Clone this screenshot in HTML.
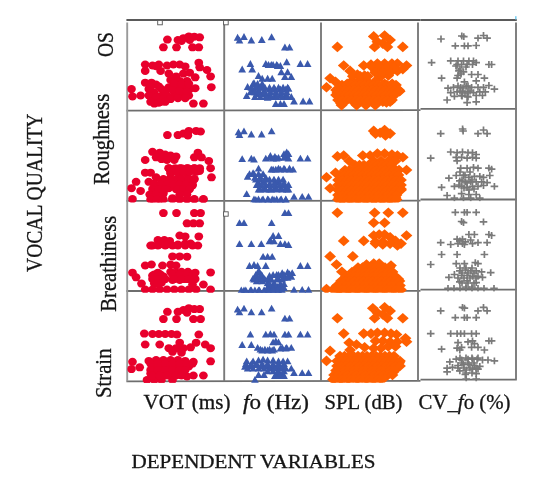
<!DOCTYPE html>
<html><head><meta charset="utf-8"><title>Vocal quality scatterplot matrix</title>
<style>html,body{margin:0;padding:0;background:#fff;}svg{display:block;}</style></head>
<body><svg width="550" height="491" viewBox="0 0 550 491">
<rect width="550" height="491" fill="#fff"/>
<defs>
<clipPath id="p00"><polygon points="127.2,19.50 224.2,19.50 224.2,112.19 127.2,112.40"/></clipPath>
<clipPath id="p01"><polygon points="224.2,19.50 321,19.50 321,111.97 224.2,112.19"/></clipPath>
<clipPath id="p02"><polygon points="321,19.50 418,19.50 418,111.76 321,111.97"/></clipPath>
<clipPath id="p03"><polygon points="418,19.50 516,19.50 516,110.55 418,110.55"/></clipPath>
<clipPath id="p10"><polygon points="127.2,110.20 224.2,109.99 224.2,202.53 127.2,202.60"/></clipPath>
<clipPath id="p11"><polygon points="224.2,109.99 321,109.77 321,202.47 224.2,202.53"/></clipPath>
<clipPath id="p12"><polygon points="321,109.77 418,109.56 418,202.40 321,202.47"/></clipPath>
<clipPath id="p13"><polygon points="418,108.35 516,108.35 516,201.20 418,201.20"/></clipPath>
<clipPath id="p20"><polygon points="127.2,200.40 224.2,200.33 224.2,292.67 127.2,292.70"/></clipPath>
<clipPath id="p21"><polygon points="224.2,200.33 321,200.27 321,292.63 224.2,292.67"/></clipPath>
<clipPath id="p22"><polygon points="321,200.27 418,200.20 418,292.60 321,292.63"/></clipPath>
<clipPath id="p23"><polygon points="418,199.00 516,199.00 516,291.40 418,291.40"/></clipPath>
<clipPath id="p30"><polygon points="127.2,290.50 224.2,290.47 224.2,382.87 127.2,383.00"/></clipPath>
<clipPath id="p31"><polygon points="224.2,290.47 321,290.43 321,382.74 224.2,382.87"/></clipPath>
<clipPath id="p32"><polygon points="321,290.43 418,290.40 418,382.60 321,382.74"/></clipPath>
<clipPath id="p33"><polygon points="418,289.20 516,289.20 516,381.30 418,381.30"/></clipPath>
</defs>
<line x1="126.4" y1="20" x2="420.5" y2="20" stroke="#5a5a5a" stroke-width="1.8"/>
<line x1="420.5" y1="20" x2="516.8" y2="20" stroke="#5a5a5a" stroke-width="1.8"/>
<line x1="126.4" y1="110.7" x2="420.5" y2="110.05" stroke="#6e6e6e" stroke-width="1.8"/>
<line x1="420.5" y1="108.85" x2="516.8" y2="108.85" stroke="#6e6e6e" stroke-width="1.8"/>
<line x1="126.4" y1="200.9" x2="420.5" y2="200.7" stroke="#6e6e6e" stroke-width="1.8"/>
<line x1="420.5" y1="199.5" x2="516.8" y2="199.5" stroke="#6e6e6e" stroke-width="1.8"/>
<line x1="126.4" y1="291" x2="420.5" y2="290.9" stroke="#6e6e6e" stroke-width="1.8"/>
<line x1="420.5" y1="289.7" x2="516.8" y2="289.7" stroke="#6e6e6e" stroke-width="1.8"/>
<line x1="126.4" y1="381.3" x2="420.5" y2="380.9" stroke="#6e6e6e" stroke-width="1.8"/>
<line x1="420.5" y1="379.6" x2="516.8" y2="379.6" stroke="#6e6e6e" stroke-width="1.8"/>
<line x1="127.2" y1="22.5" x2="127.2" y2="381.3" stroke="#9a9a9a" stroke-width="1.9"/>
<line x1="224.2" y1="22.5" x2="224.2" y2="381.1677122400273" stroke="#7a7a7a" stroke-width="1.9"/>
<line x1="321" y1="22.5" x2="321" y2="381.03569723832254" stroke="#7a7a7a" stroke-width="1.9"/>
<line x1="418" y1="22.5" x2="418" y2="380.9034094783498" stroke="#7a7a7a" stroke-width="1.9"/>
<line x1="516" y1="22.5" x2="516" y2="379.6" stroke="#7a7a7a" stroke-width="1.9"/>
<g clip-path="url(#p00)" fill="#e8002c">
<ellipse cx="167.4" cy="39.6" rx="4.35" ry="4.0"/>
<ellipse cx="163.4" cy="47.3" rx="4.35" ry="4.0"/>
<ellipse cx="176.5" cy="47.3" rx="4.35" ry="4.0"/>
<ellipse cx="177.9" cy="40.0" rx="4.35" ry="4.0"/>
<ellipse cx="183.4" cy="38.2" rx="4.35" ry="4.0"/>
<ellipse cx="188.8" cy="36.4" rx="4.35" ry="4.0"/>
<ellipse cx="194.3" cy="36.7" rx="4.35" ry="4.0"/>
<ellipse cx="199.7" cy="37.3" rx="4.35" ry="4.0"/>
<ellipse cx="192.5" cy="47.3" rx="4.35" ry="4.0"/>
<ellipse cx="198.8" cy="47.3" rx="4.35" ry="4.0"/>
<ellipse cx="181.5" cy="40.9" rx="4.35" ry="4.0"/>
<ellipse cx="189.7" cy="40.0" rx="4.35" ry="4.0"/>
<ellipse cx="145.2" cy="64.5" rx="4.35" ry="4.0"/>
<ellipse cx="145.2" cy="70.9" rx="4.35" ry="4.0"/>
<ellipse cx="152.5" cy="65.5" rx="4.35" ry="4.0"/>
<ellipse cx="158.8" cy="64.5" rx="4.35" ry="4.0"/>
<ellipse cx="160.6" cy="70.9" rx="4.35" ry="4.0"/>
<ellipse cx="167.0" cy="65.5" rx="4.35" ry="4.0"/>
<ellipse cx="173.4" cy="64.5" rx="4.35" ry="4.0"/>
<ellipse cx="179.7" cy="64.5" rx="4.35" ry="4.0"/>
<ellipse cx="185.2" cy="66.4" rx="4.35" ry="4.0"/>
<ellipse cx="198.8" cy="62.7" rx="4.35" ry="4.0"/>
<ellipse cx="199.7" cy="67.3" rx="4.35" ry="4.0"/>
<ellipse cx="207.0" cy="70.0" rx="4.35" ry="4.0"/>
<ellipse cx="210.6" cy="76.4" rx="4.35" ry="4.0"/>
<ellipse cx="211.3" cy="87.2" rx="4.35" ry="4.0"/>
<ellipse cx="168.8" cy="73.6" rx="4.35" ry="4.0"/>
<ellipse cx="176.1" cy="76.4" rx="4.35" ry="4.0"/>
<ellipse cx="183.4" cy="73.6" rx="4.35" ry="4.0"/>
<ellipse cx="189.7" cy="72.7" rx="4.35" ry="4.0"/>
<ellipse cx="195.2" cy="77.3" rx="4.35" ry="4.0"/>
<ellipse cx="170.6" cy="80.0" rx="4.35" ry="4.0"/>
<ellipse cx="179.7" cy="80.9" rx="4.35" ry="4.0"/>
<ellipse cx="187.0" cy="80.9" rx="4.35" ry="4.0"/>
<ellipse cx="145.2" cy="82.7" rx="4.35" ry="4.0"/>
<ellipse cx="151.5" cy="82.7" rx="4.35" ry="4.0"/>
<ellipse cx="131.5" cy="89.1" rx="4.35" ry="4.0"/>
<ellipse cx="132.5" cy="96.4" rx="4.35" ry="4.0"/>
<ellipse cx="140.6" cy="95.5" rx="4.35" ry="4.0"/>
<ellipse cx="148.8" cy="89.1" rx="4.35" ry="4.0"/>
<ellipse cx="154.3" cy="92.7" rx="4.35" ry="4.0"/>
<ellipse cx="161.5" cy="89.1" rx="4.35" ry="4.0"/>
<ellipse cx="168.8" cy="87.3" rx="4.35" ry="4.0"/>
<ellipse cx="176.1" cy="87.3" rx="4.35" ry="4.0"/>
<ellipse cx="183.4" cy="87.3" rx="4.35" ry="4.0"/>
<ellipse cx="189.7" cy="89.1" rx="4.35" ry="4.0"/>
<ellipse cx="195.2" cy="88.2" rx="4.35" ry="4.0"/>
<ellipse cx="152.5" cy="99.1" rx="4.35" ry="4.0"/>
<ellipse cx="159.7" cy="96.4" rx="4.35" ry="4.0"/>
<ellipse cx="167.0" cy="95.5" rx="4.35" ry="4.0"/>
<ellipse cx="174.3" cy="94.5" rx="4.35" ry="4.0"/>
<ellipse cx="181.5" cy="93.6" rx="4.35" ry="4.0"/>
<ellipse cx="188.8" cy="95.5" rx="4.35" ry="4.0"/>
<ellipse cx="154.3" cy="103.6" rx="4.35" ry="4.0"/>
<ellipse cx="160.6" cy="101.8" rx="4.35" ry="4.0"/>
<ellipse cx="193.4" cy="103.6" rx="4.35" ry="4.0"/>
<ellipse cx="203.4" cy="103.6" rx="4.35" ry="4.0"/>
<ellipse cx="156.1" cy="66.2" rx="4.35" ry="4.0"/>
<ellipse cx="156.1" cy="84.5" rx="4.35" ry="4.0"/>
<ellipse cx="150.6" cy="87.3" rx="4.35" ry="4.0"/>
<ellipse cx="158.8" cy="86.4" rx="4.35" ry="4.0"/>
<ellipse cx="174.3" cy="83.6" rx="4.35" ry="4.0"/>
<ellipse cx="181.5" cy="83.6" rx="4.35" ry="4.0"/>
<ellipse cx="188.8" cy="83.6" rx="4.35" ry="4.0"/>
<ellipse cx="165.2" cy="91.8" rx="4.35" ry="4.0"/>
<ellipse cx="172.5" cy="90.0" rx="4.35" ry="4.0"/>
<ellipse cx="179.7" cy="90.9" rx="4.35" ry="4.0"/>
<ellipse cx="187.0" cy="91.8" rx="4.35" ry="4.0"/>
<ellipse cx="148.8" cy="95.5" rx="4.35" ry="4.0"/>
<ellipse cx="156.1" cy="97.3" rx="4.35" ry="4.0"/>
<ellipse cx="163.4" cy="99.1" rx="4.35" ry="4.0"/>
<ellipse cx="170.6" cy="99.1" rx="4.35" ry="4.0"/>
<ellipse cx="177.9" cy="98.2" rx="4.35" ry="4.0"/>
<ellipse cx="185.2" cy="98.2" rx="4.35" ry="4.0"/>
<ellipse cx="150.6" cy="101.8" rx="4.35" ry="4.0"/>
<ellipse cx="158.8" cy="102.7" rx="4.35" ry="4.0"/>
<ellipse cx="165.2" cy="101.8" rx="4.35" ry="4.0"/>
</g>
<g clip-path="url(#p10)" fill="#e8002c">
<ellipse cx="167.4" cy="135.1" rx="4.35" ry="4.0"/>
<ellipse cx="177.9" cy="135.1" rx="4.35" ry="4.0"/>
<ellipse cx="183.4" cy="133.6" rx="4.35" ry="4.0"/>
<ellipse cx="188.8" cy="130.9" rx="4.35" ry="4.0"/>
<ellipse cx="187.9" cy="135.5" rx="4.35" ry="4.0"/>
<ellipse cx="196.1" cy="130.9" rx="4.35" ry="4.0"/>
<ellipse cx="200.6" cy="131.5" rx="4.35" ry="4.0"/>
<ellipse cx="152.5" cy="151.8" rx="4.35" ry="4.0"/>
<ellipse cx="159.7" cy="152.7" rx="4.35" ry="4.0"/>
<ellipse cx="165.2" cy="154.5" rx="4.35" ry="4.0"/>
<ellipse cx="170.6" cy="155.5" rx="4.35" ry="4.0"/>
<ellipse cx="176.1" cy="156.4" rx="4.35" ry="4.0"/>
<ellipse cx="156.1" cy="157.3" rx="4.35" ry="4.0"/>
<ellipse cx="161.5" cy="159.1" rx="4.35" ry="4.0"/>
<ellipse cx="167.0" cy="160.0" rx="4.35" ry="4.0"/>
<ellipse cx="174.3" cy="160.0" rx="4.35" ry="4.0"/>
<ellipse cx="145.2" cy="160.0" rx="4.35" ry="4.0"/>
<ellipse cx="197.9" cy="152.7" rx="4.35" ry="4.0"/>
<ellipse cx="194.3" cy="157.3" rx="4.35" ry="4.0"/>
<ellipse cx="201.5" cy="157.3" rx="4.35" ry="4.0"/>
<ellipse cx="208.8" cy="160.9" rx="4.35" ry="4.0"/>
<ellipse cx="210.6" cy="168.2" rx="4.35" ry="4.0"/>
<ellipse cx="211.5" cy="177.3" rx="4.35" ry="4.0"/>
<ellipse cx="168.8" cy="168.2" rx="4.35" ry="4.0"/>
<ellipse cx="179.7" cy="168.2" rx="4.35" ry="4.0"/>
<ellipse cx="187.0" cy="168.2" rx="4.35" ry="4.0"/>
<ellipse cx="194.3" cy="168.2" rx="4.35" ry="4.0"/>
<ellipse cx="199.7" cy="170.9" rx="4.35" ry="4.0"/>
<ellipse cx="170.6" cy="173.6" rx="4.35" ry="4.0"/>
<ellipse cx="179.7" cy="174.5" rx="4.35" ry="4.0"/>
<ellipse cx="187.0" cy="173.6" rx="4.35" ry="4.0"/>
<ellipse cx="145.2" cy="172.7" rx="4.35" ry="4.0"/>
<ellipse cx="150.6" cy="172.7" rx="4.35" ry="4.0"/>
<ellipse cx="156.1" cy="177.3" rx="4.35" ry="4.0"/>
<ellipse cx="148.8" cy="181.8" rx="4.35" ry="4.0"/>
<ellipse cx="136.1" cy="181.8" rx="4.35" ry="4.0"/>
<ellipse cx="131.5" cy="188.2" rx="4.35" ry="4.0"/>
<ellipse cx="140.6" cy="190.9" rx="4.35" ry="4.0"/>
<ellipse cx="154.3" cy="183.6" rx="4.35" ry="4.0"/>
<ellipse cx="161.5" cy="182.7" rx="4.35" ry="4.0"/>
<ellipse cx="167.0" cy="181.8" rx="4.35" ry="4.0"/>
<ellipse cx="174.3" cy="180.9" rx="4.35" ry="4.0"/>
<ellipse cx="181.5" cy="180.0" rx="4.35" ry="4.0"/>
<ellipse cx="188.8" cy="180.9" rx="4.35" ry="4.0"/>
<ellipse cx="194.3" cy="179.1" rx="4.35" ry="4.0"/>
<ellipse cx="192.5" cy="185.5" rx="4.35" ry="4.0"/>
<ellipse cx="154.3" cy="189.1" rx="4.35" ry="4.0"/>
<ellipse cx="161.5" cy="189.1" rx="4.35" ry="4.0"/>
<ellipse cx="168.8" cy="188.2" rx="4.35" ry="4.0"/>
<ellipse cx="176.1" cy="189.1" rx="4.35" ry="4.0"/>
<ellipse cx="183.4" cy="189.1" rx="4.35" ry="4.0"/>
<ellipse cx="188.8" cy="188.2" rx="4.35" ry="4.0"/>
<ellipse cx="150.6" cy="195.5" rx="4.35" ry="4.0"/>
<ellipse cx="157.9" cy="194.5" rx="4.35" ry="4.0"/>
<ellipse cx="163.4" cy="193.6" rx="4.35" ry="4.0"/>
<ellipse cx="152.5" cy="199.1" rx="4.35" ry="4.0"/>
<ellipse cx="159.7" cy="199.1" rx="4.35" ry="4.0"/>
<ellipse cx="172.5" cy="198.2" rx="4.35" ry="4.0"/>
<ellipse cx="179.7" cy="199.1" rx="4.35" ry="4.0"/>
<ellipse cx="187.0" cy="199.1" rx="4.35" ry="4.0"/>
<ellipse cx="194.3" cy="199.1" rx="4.35" ry="4.0"/>
<ellipse cx="203.4" cy="199.1" rx="4.35" ry="4.0"/>
<ellipse cx="132.5" cy="199.1" rx="4.35" ry="4.0"/>
<ellipse cx="168.8" cy="168.2" rx="4.35" ry="4.0"/>
<ellipse cx="175.2" cy="168.2" rx="4.35" ry="4.0"/>
<ellipse cx="181.5" cy="168.2" rx="4.35" ry="4.0"/>
<ellipse cx="187.9" cy="168.2" rx="4.35" ry="4.0"/>
<ellipse cx="194.3" cy="168.2" rx="4.35" ry="4.0"/>
<ellipse cx="199.7" cy="168.2" rx="4.35" ry="4.0"/>
<ellipse cx="170.6" cy="171.8" rx="4.35" ry="4.0"/>
<ellipse cx="177.0" cy="171.8" rx="4.35" ry="4.0"/>
<ellipse cx="183.4" cy="171.8" rx="4.35" ry="4.0"/>
<ellipse cx="189.7" cy="171.8" rx="4.35" ry="4.0"/>
<ellipse cx="196.1" cy="171.8" rx="4.35" ry="4.0"/>
<ellipse cx="163.4" cy="179.1" rx="4.35" ry="4.0"/>
<ellipse cx="169.7" cy="179.1" rx="4.35" ry="4.0"/>
<ellipse cx="176.1" cy="179.1" rx="4.35" ry="4.0"/>
<ellipse cx="181.5" cy="179.1" rx="4.35" ry="4.0"/>
<ellipse cx="188.8" cy="179.1" rx="4.35" ry="4.0"/>
<ellipse cx="194.3" cy="179.1" rx="4.35" ry="4.0"/>
<ellipse cx="154.3" cy="184.5" rx="4.35" ry="4.0"/>
<ellipse cx="160.6" cy="184.5" rx="4.35" ry="4.0"/>
<ellipse cx="167.0" cy="184.5" rx="4.35" ry="4.0"/>
<ellipse cx="173.4" cy="184.5" rx="4.35" ry="4.0"/>
<ellipse cx="179.7" cy="184.5" rx="4.35" ry="4.0"/>
<ellipse cx="186.1" cy="184.5" rx="4.35" ry="4.0"/>
<ellipse cx="192.5" cy="184.5" rx="4.35" ry="4.0"/>
<ellipse cx="152.5" cy="189.1" rx="4.35" ry="4.0"/>
<ellipse cx="158.8" cy="189.1" rx="4.35" ry="4.0"/>
<ellipse cx="165.2" cy="189.1" rx="4.35" ry="4.0"/>
<ellipse cx="177.9" cy="189.1" rx="4.35" ry="4.0"/>
<ellipse cx="183.4" cy="189.1" rx="4.35" ry="4.0"/>
<ellipse cx="189.7" cy="189.1" rx="4.35" ry="4.0"/>
<ellipse cx="149.7" cy="194.5" rx="4.35" ry="4.0"/>
<ellipse cx="156.1" cy="194.5" rx="4.35" ry="4.0"/>
<ellipse cx="162.5" cy="194.5" rx="4.35" ry="4.0"/>
<ellipse cx="179.7" cy="194.5" rx="4.35" ry="4.0"/>
<ellipse cx="187.0" cy="194.5" rx="4.35" ry="4.0"/>
<ellipse cx="150.6" cy="199.5" rx="4.35" ry="4.0"/>
<ellipse cx="157.0" cy="199.5" rx="4.35" ry="4.0"/>
<ellipse cx="163.4" cy="199.5" rx="4.35" ry="4.0"/>
<ellipse cx="172.5" cy="199.5" rx="4.35" ry="4.0"/>
<ellipse cx="179.7" cy="199.5" rx="4.35" ry="4.0"/>
<ellipse cx="187.0" cy="199.5" rx="4.35" ry="4.0"/>
<ellipse cx="194.3" cy="199.5" rx="4.35" ry="4.0"/>
<ellipse cx="203.4" cy="199.5" rx="4.35" ry="4.0"/>
</g>
<g clip-path="url(#p20)" fill="#e8002c">
<ellipse cx="163.4" cy="213.1" rx="4.35" ry="4.0"/>
<ellipse cx="176.5" cy="213.1" rx="4.35" ry="4.0"/>
<ellipse cx="194.3" cy="213.1" rx="4.35" ry="4.0"/>
<ellipse cx="200.6" cy="213.1" rx="4.35" ry="4.0"/>
<ellipse cx="187.0" cy="223.3" rx="4.35" ry="4.0"/>
<ellipse cx="193.4" cy="223.3" rx="4.35" ry="4.0"/>
<ellipse cx="199.7" cy="223.3" rx="4.35" ry="4.0"/>
<ellipse cx="179.7" cy="235.5" rx="4.35" ry="4.0"/>
<ellipse cx="185.2" cy="236.4" rx="4.35" ry="4.0"/>
<ellipse cx="198.8" cy="236.4" rx="4.35" ry="4.0"/>
<ellipse cx="157.9" cy="240.0" rx="4.35" ry="4.0"/>
<ellipse cx="164.3" cy="240.0" rx="4.35" ry="4.0"/>
<ellipse cx="169.7" cy="240.9" rx="4.35" ry="4.0"/>
<ellipse cx="152.5" cy="245.5" rx="4.35" ry="4.0"/>
<ellipse cx="159.7" cy="244.5" rx="4.35" ry="4.0"/>
<ellipse cx="167.0" cy="244.5" rx="4.35" ry="4.0"/>
<ellipse cx="177.9" cy="244.5" rx="4.35" ry="4.0"/>
<ellipse cx="185.2" cy="243.6" rx="4.35" ry="4.0"/>
<ellipse cx="190.6" cy="243.6" rx="4.35" ry="4.0"/>
<ellipse cx="197.9" cy="245.5" rx="4.35" ry="4.0"/>
<ellipse cx="172.5" cy="256.4" rx="4.35" ry="4.0"/>
<ellipse cx="179.7" cy="256.4" rx="4.35" ry="4.0"/>
<ellipse cx="187.0" cy="256.7" rx="4.35" ry="4.0"/>
<ellipse cx="145.2" cy="265.5" rx="4.35" ry="4.0"/>
<ellipse cx="151.5" cy="264.5" rx="4.35" ry="4.0"/>
<ellipse cx="162.5" cy="265.5" rx="4.35" ry="4.0"/>
<ellipse cx="170.6" cy="264.5" rx="4.35" ry="4.0"/>
<ellipse cx="176.1" cy="265.5" rx="4.35" ry="4.0"/>
<ellipse cx="132.5" cy="272.7" rx="4.35" ry="4.0"/>
<ellipse cx="136.1" cy="277.3" rx="4.35" ry="4.0"/>
<ellipse cx="152.5" cy="275.5" rx="4.35" ry="4.0"/>
<ellipse cx="157.9" cy="272.7" rx="4.35" ry="4.0"/>
<ellipse cx="163.4" cy="276.4" rx="4.35" ry="4.0"/>
<ellipse cx="170.6" cy="271.8" rx="4.35" ry="4.0"/>
<ellipse cx="176.1" cy="272.7" rx="4.35" ry="4.0"/>
<ellipse cx="181.5" cy="271.8" rx="4.35" ry="4.0"/>
<ellipse cx="187.9" cy="271.8" rx="4.35" ry="4.0"/>
<ellipse cx="195.2" cy="272.7" rx="4.35" ry="4.0"/>
<ellipse cx="210.6" cy="272.4" rx="4.35" ry="4.0"/>
<ellipse cx="172.5" cy="280.0" rx="4.35" ry="4.0"/>
<ellipse cx="179.7" cy="280.0" rx="4.35" ry="4.0"/>
<ellipse cx="185.2" cy="279.1" rx="4.35" ry="4.0"/>
<ellipse cx="195.2" cy="279.1" rx="4.35" ry="4.0"/>
<ellipse cx="141.5" cy="283.6" rx="4.35" ry="4.0"/>
<ellipse cx="154.3" cy="283.6" rx="4.35" ry="4.0"/>
<ellipse cx="161.5" cy="282.7" rx="4.35" ry="4.0"/>
<ellipse cx="192.5" cy="284.5" rx="4.35" ry="4.0"/>
<ellipse cx="203.4" cy="284.5" rx="4.35" ry="4.0"/>
<ellipse cx="145.2" cy="289.5" rx="4.35" ry="4.0"/>
<ellipse cx="152.5" cy="289.5" rx="4.35" ry="4.0"/>
<ellipse cx="159.7" cy="289.5" rx="4.35" ry="4.0"/>
<ellipse cx="167.0" cy="289.5" rx="4.35" ry="4.0"/>
<ellipse cx="174.3" cy="289.5" rx="4.35" ry="4.0"/>
<ellipse cx="181.5" cy="289.5" rx="4.35" ry="4.0"/>
<ellipse cx="188.8" cy="289.5" rx="4.35" ry="4.0"/>
<ellipse cx="196.1" cy="289.5" rx="4.35" ry="4.0"/>
<ellipse cx="210.6" cy="289.5" rx="4.35" ry="4.0"/>
<ellipse cx="154.3" cy="274.5" rx="4.35" ry="4.0"/>
<ellipse cx="160.6" cy="274.5" rx="4.35" ry="4.0"/>
<ellipse cx="172.5" cy="274.5" rx="4.35" ry="4.0"/>
<ellipse cx="179.7" cy="274.5" rx="4.35" ry="4.0"/>
<ellipse cx="187.0" cy="274.5" rx="4.35" ry="4.0"/>
<ellipse cx="192.5" cy="274.5" rx="4.35" ry="4.0"/>
<ellipse cx="152.5" cy="279.1" rx="4.35" ry="4.0"/>
<ellipse cx="158.8" cy="279.1" rx="4.35" ry="4.0"/>
<ellipse cx="165.2" cy="279.1" rx="4.35" ry="4.0"/>
<ellipse cx="174.3" cy="279.1" rx="4.35" ry="4.0"/>
<ellipse cx="181.5" cy="279.1" rx="4.35" ry="4.0"/>
<ellipse cx="188.8" cy="279.1" rx="4.35" ry="4.0"/>
<ellipse cx="157.9" cy="283.6" rx="4.35" ry="4.0"/>
<ellipse cx="150.6" cy="245.5" rx="4.35" ry="4.0"/>
<ellipse cx="157.9" cy="245.5" rx="4.35" ry="4.0"/>
<ellipse cx="165.2" cy="245.5" rx="4.35" ry="4.0"/>
<ellipse cx="172.5" cy="245.5" rx="4.35" ry="4.0"/>
<ellipse cx="177.9" cy="245.5" rx="4.35" ry="4.0"/>
<ellipse cx="185.2" cy="245.5" rx="4.35" ry="4.0"/>
<ellipse cx="192.5" cy="245.5" rx="4.35" ry="4.0"/>
</g>
<g clip-path="url(#p30)" fill="#e8002c">
<ellipse cx="167.4" cy="311.8" rx="4.35" ry="4.0"/>
<ellipse cx="177.9" cy="311.8" rx="4.35" ry="4.0"/>
<ellipse cx="183.4" cy="310.0" rx="4.35" ry="4.0"/>
<ellipse cx="188.8" cy="308.2" rx="4.35" ry="4.0"/>
<ellipse cx="194.3" cy="309.1" rx="4.35" ry="4.0"/>
<ellipse cx="199.7" cy="309.1" rx="4.35" ry="4.0"/>
<ellipse cx="187.0" cy="312.7" rx="4.35" ry="4.0"/>
<ellipse cx="163.4" cy="319.1" rx="4.35" ry="4.0"/>
<ellipse cx="176.5" cy="319.1" rx="4.35" ry="4.0"/>
<ellipse cx="193.4" cy="319.1" rx="4.35" ry="4.0"/>
<ellipse cx="200.6" cy="319.1" rx="4.35" ry="4.0"/>
<ellipse cx="144.3" cy="333.6" rx="4.35" ry="4.0"/>
<ellipse cx="152.5" cy="334.0" rx="4.35" ry="4.0"/>
<ellipse cx="158.8" cy="334.0" rx="4.35" ry="4.0"/>
<ellipse cx="165.2" cy="334.0" rx="4.35" ry="4.0"/>
<ellipse cx="171.5" cy="334.0" rx="4.35" ry="4.0"/>
<ellipse cx="177.0" cy="334.5" rx="4.35" ry="4.0"/>
<ellipse cx="198.8" cy="334.5" rx="4.35" ry="4.0"/>
<ellipse cx="145.2" cy="344.5" rx="4.35" ry="4.0"/>
<ellipse cx="159.7" cy="344.5" rx="4.35" ry="4.0"/>
<ellipse cx="179.7" cy="342.7" rx="4.35" ry="4.0"/>
<ellipse cx="196.1" cy="342.7" rx="4.35" ry="4.0"/>
<ellipse cx="205.2" cy="344.5" rx="4.35" ry="4.0"/>
<ellipse cx="210.6" cy="348.2" rx="4.35" ry="4.0"/>
<ellipse cx="168.8" cy="348.2" rx="4.35" ry="4.0"/>
<ellipse cx="176.1" cy="348.2" rx="4.35" ry="4.0"/>
<ellipse cx="183.4" cy="348.2" rx="4.35" ry="4.0"/>
<ellipse cx="190.6" cy="347.3" rx="4.35" ry="4.0"/>
<ellipse cx="172.5" cy="351.8" rx="4.35" ry="4.0"/>
<ellipse cx="181.5" cy="352.7" rx="4.35" ry="4.0"/>
<ellipse cx="132.5" cy="361.8" rx="4.35" ry="4.0"/>
<ellipse cx="131.5" cy="369.1" rx="4.35" ry="4.0"/>
<ellipse cx="139.7" cy="367.3" rx="4.35" ry="4.0"/>
<ellipse cx="148.8" cy="360.9" rx="4.35" ry="4.0"/>
<ellipse cx="156.1" cy="360.0" rx="4.35" ry="4.0"/>
<ellipse cx="163.4" cy="360.0" rx="4.35" ry="4.0"/>
<ellipse cx="170.6" cy="360.0" rx="4.35" ry="4.0"/>
<ellipse cx="177.9" cy="360.0" rx="4.35" ry="4.0"/>
<ellipse cx="185.2" cy="360.9" rx="4.35" ry="4.0"/>
<ellipse cx="193.4" cy="361.8" rx="4.35" ry="4.0"/>
<ellipse cx="210.6" cy="361.3" rx="4.35" ry="4.0"/>
<ellipse cx="152.5" cy="367.3" rx="4.35" ry="4.0"/>
<ellipse cx="159.7" cy="366.4" rx="4.35" ry="4.0"/>
<ellipse cx="167.0" cy="366.4" rx="4.35" ry="4.0"/>
<ellipse cx="174.3" cy="366.4" rx="4.35" ry="4.0"/>
<ellipse cx="181.5" cy="365.5" rx="4.35" ry="4.0"/>
<ellipse cx="188.8" cy="366.4" rx="4.35" ry="4.0"/>
<ellipse cx="150.6" cy="373.6" rx="4.35" ry="4.0"/>
<ellipse cx="157.9" cy="373.6" rx="4.35" ry="4.0"/>
<ellipse cx="165.2" cy="373.6" rx="4.35" ry="4.0"/>
<ellipse cx="172.5" cy="374.5" rx="4.35" ry="4.0"/>
<ellipse cx="187.0" cy="376.4" rx="4.35" ry="4.0"/>
<ellipse cx="193.4" cy="375.5" rx="4.35" ry="4.0"/>
<ellipse cx="203.4" cy="375.5" rx="4.35" ry="4.0"/>
<ellipse cx="147.0" cy="380.0" rx="4.35" ry="4.0"/>
<ellipse cx="154.3" cy="380.0" rx="4.35" ry="4.0"/>
<ellipse cx="161.5" cy="380.0" rx="4.35" ry="4.0"/>
<ellipse cx="172.5" cy="380.0" rx="4.35" ry="4.0"/>
<ellipse cx="150.6" cy="363.6" rx="4.35" ry="4.0"/>
<ellipse cx="157.9" cy="363.6" rx="4.35" ry="4.0"/>
<ellipse cx="165.2" cy="363.6" rx="4.35" ry="4.0"/>
<ellipse cx="172.5" cy="363.6" rx="4.35" ry="4.0"/>
<ellipse cx="179.7" cy="363.6" rx="4.35" ry="4.0"/>
<ellipse cx="187.0" cy="363.6" rx="4.35" ry="4.0"/>
<ellipse cx="192.5" cy="363.6" rx="4.35" ry="4.0"/>
<ellipse cx="150.6" cy="370.0" rx="4.35" ry="4.0"/>
<ellipse cx="157.9" cy="370.0" rx="4.35" ry="4.0"/>
<ellipse cx="165.2" cy="370.0" rx="4.35" ry="4.0"/>
<ellipse cx="172.5" cy="370.0" rx="4.35" ry="4.0"/>
<ellipse cx="179.7" cy="370.0" rx="4.35" ry="4.0"/>
<ellipse cx="185.2" cy="370.0" rx="4.35" ry="4.0"/>
<ellipse cx="152.5" cy="375.5" rx="4.35" ry="4.0"/>
<ellipse cx="159.7" cy="375.5" rx="4.35" ry="4.0"/>
<ellipse cx="167.0" cy="375.5" rx="4.35" ry="4.0"/>
<ellipse cx="176.1" cy="375.5" rx="4.35" ry="4.0"/>
<ellipse cx="181.5" cy="375.5" rx="4.35" ry="4.0"/>
</g>
<g clip-path="url(#p01)" fill="#3a59ad">
<path d="M237.6 33.8L241.4 40.8H233.8Z"/>
<path d="M239.5 36.5L243.3 43.5H235.7Z"/>
<path d="M244.0 32.9L247.8 39.9H240.2Z"/>
<path d="M251.3 36.5L255.2 43.5H247.5Z"/>
<path d="M261.8 36.1L265.7 43.1H257.9Z"/>
<path d="M271.6 33.2L275.5 40.2H267.8Z"/>
<path d="M284.9 43.4L288.8 50.4H281.0Z"/>
<path d="M289.5 43.4L293.4 50.4H285.6Z"/>
<path d="M250.4 60.1L254.2 67.0H246.6Z"/>
<path d="M242.2 65.6L246.0 72.5H238.3Z"/>
<path d="M252.2 65.6L256.1 72.5H248.3Z"/>
<path d="M265.8 60.1L269.7 67.0H261.9Z"/>
<path d="M271.3 61.0L275.2 68.0H267.4Z"/>
<path d="M276.7 61.0L280.6 68.0H272.8Z"/>
<path d="M280.4 62.0L284.2 69.0H276.5Z"/>
<path d="M286.7 58.3L290.6 65.2H282.8Z"/>
<path d="M300.4 60.1L304.2 67.0H296.5Z"/>
<path d="M307.6 60.1L311.5 67.0H303.8Z"/>
<path d="M281.3 68.3L285.2 75.2H277.4Z"/>
<path d="M287.6 68.3L291.5 75.2H283.8Z"/>
<path d="M284.9 73.0L288.8 79.9H281.0Z"/>
<path d="M291.3 73.0L295.2 79.9H287.4Z"/>
<path d="M258.5 72.0L262.4 79.0H254.7Z"/>
<path d="M262.2 74.8L266.1 81.7H258.3Z"/>
<path d="M267.6 74.8L271.5 81.7H263.8Z"/>
<path d="M272.2 74.8L276.1 81.7H268.3Z"/>
<path d="M254.0 79.2L257.9 86.2H250.2Z"/>
<path d="M247.6 83.0L251.4 89.9H243.8Z"/>
<path d="M256.7 82.0L260.6 89.0H252.8Z"/>
<path d="M262.2 82.0L266.1 89.0H258.3Z"/>
<path d="M253.1 86.5L256.9 93.5H249.2Z"/>
<path d="M258.5 86.5L262.4 93.5H254.7Z"/>
<path d="M264.0 87.5L267.9 94.4H260.1Z"/>
<path d="M269.5 85.6L273.4 92.5H265.6Z"/>
<path d="M274.9 85.6L278.8 92.5H271.0Z"/>
<path d="M280.4 85.6L284.2 92.5H276.5Z"/>
<path d="M285.8 85.6L289.7 92.5H281.9Z"/>
<path d="M288.5 84.8L292.4 91.7H284.6Z"/>
<path d="M246.7 92.0L250.5 99.0H242.8Z"/>
<path d="M256.7 90.1L260.6 97.0H252.8Z"/>
<path d="M263.1 90.1L267.0 97.0H259.2Z"/>
<path d="M269.5 92.0L273.4 99.0H265.6Z"/>
<path d="M274.9 92.0L278.8 99.0H271.0Z"/>
<path d="M280.4 91.0L284.2 98.0H276.5Z"/>
<path d="M285.8 91.0L289.7 98.0H281.9Z"/>
<path d="M291.3 93.0L295.2 99.9H287.4Z"/>
<path d="M294.0 97.5L297.9 104.4H290.1Z"/>
<path d="M303.1 97.5L307.0 104.4H299.2Z"/>
<path d="M309.5 97.5L313.4 104.4H305.6Z"/>
<path d="M275.8 100.1L279.7 107.0H271.9Z"/>
<path d="M280.4 100.1L284.2 107.0H276.5Z"/>
<path d="M284.0 100.1L287.9 107.0H280.1Z"/>
<path d="M267.6 93.8L271.5 100.8H263.8Z"/>
<path d="M268.5 61.0L272.4 68.0H264.6Z"/>
<path d="M273.1 61.0L277.0 68.0H269.2Z"/>
<path d="M277.6 62.0L281.5 69.0H273.8Z"/>
<path d="M253.1 80.1L256.9 87.0H249.2Z"/>
<path d="M257.6 80.1L261.5 87.0H253.8Z"/>
<path d="M262.2 80.1L266.1 87.0H258.3Z"/>
<path d="M251.3 83.8L255.2 90.8H247.5Z"/>
<path d="M255.8 83.8L259.7 90.8H252.0Z"/>
<path d="M260.4 83.8L264.2 90.8H256.5Z"/>
<path d="M264.9 83.8L268.8 90.8H261.0Z"/>
<path d="M269.5 83.8L273.4 90.8H265.6Z"/>
<path d="M274.0 83.8L277.9 90.8H270.1Z"/>
<path d="M278.5 83.8L282.4 90.8H274.6Z"/>
<path d="M283.1 83.8L287.0 90.8H279.2Z"/>
<path d="M287.6 83.8L291.5 90.8H283.8Z"/>
<path d="M250.4 88.3L254.2 95.2H246.6Z"/>
<path d="M254.9 88.3L258.8 95.2H251.1Z"/>
<path d="M259.5 88.3L263.4 95.2H255.7Z"/>
<path d="M264.9 88.3L268.8 95.2H261.0Z"/>
<path d="M270.4 88.3L274.2 95.2H266.5Z"/>
<path d="M275.8 88.3L279.7 95.2H271.9Z"/>
<path d="M281.3 88.3L285.2 95.2H277.4Z"/>
<path d="M286.7 88.3L290.6 95.2H282.8Z"/>
<path d="M254.9 93.0L258.8 99.9H251.1Z"/>
<path d="M260.4 93.0L264.2 99.9H256.5Z"/>
<path d="M265.8 93.0L269.7 99.9H261.9Z"/>
<path d="M271.3 93.0L275.2 99.9H267.4Z"/>
<path d="M276.7 93.0L280.6 99.9H272.8Z"/>
<path d="M282.2 93.0L286.1 99.9H278.3Z"/>
<path d="M287.6 93.0L291.5 99.9H283.8Z"/>
</g>
<g clip-path="url(#p11)" fill="#3a59ad">
<path d="M238.5 128.4L242.3 135.2H234.7Z"/>
<path d="M239.5 131.1L243.3 137.9H235.7Z"/>
<path d="M244.0 127.5L247.8 134.3H240.2Z"/>
<path d="M251.3 130.6L255.2 137.4H247.5Z"/>
<path d="M261.6 130.6L265.5 137.4H257.8Z"/>
<path d="M271.6 127.5L275.5 134.3H267.8Z"/>
<path d="M286.7 148.4L290.6 155.2H282.8Z"/>
<path d="M285.8 152.1L289.7 158.9H281.9Z"/>
<path d="M242.2 155.2L246.0 162.1H238.3Z"/>
<path d="M251.3 154.8L255.2 161.6H247.5Z"/>
<path d="M254.0 155.7L257.9 162.5H250.2Z"/>
<path d="M265.8 154.8L269.7 161.6H261.9Z"/>
<path d="M270.4 152.1L274.2 158.9H266.5Z"/>
<path d="M274.9 153.0L278.8 159.8H271.0Z"/>
<path d="M278.5 153.9L282.4 160.8H274.6Z"/>
<path d="M300.4 154.8L304.2 161.6H296.5Z"/>
<path d="M307.6 154.8L311.5 161.6H303.8Z"/>
<path d="M258.5 164.8L262.4 171.6H254.7Z"/>
<path d="M273.1 165.7L277.0 172.5H269.2Z"/>
<path d="M278.5 164.8L282.4 171.6H274.6Z"/>
<path d="M284.0 164.8L287.9 171.6H280.1Z"/>
<path d="M289.5 164.8L293.4 171.6H285.6Z"/>
<path d="M293.1 165.7L297.0 172.5H289.2Z"/>
<path d="M247.6 173.0L251.4 179.8H243.8Z"/>
<path d="M253.1 169.2L256.9 176.1H249.2Z"/>
<path d="M254.9 173.9L258.8 180.8H251.1Z"/>
<path d="M260.4 173.0L264.2 179.8H256.5Z"/>
<path d="M265.8 173.9L269.7 180.8H261.9Z"/>
<path d="M258.5 179.2L262.4 186.1H254.7Z"/>
<path d="M264.0 178.4L267.9 185.2H260.1Z"/>
<path d="M269.5 180.2L273.4 187.0H265.6Z"/>
<path d="M274.9 178.4L278.8 185.2H271.0Z"/>
<path d="M278.5 177.5L282.4 184.3H274.6Z"/>
<path d="M284.0 179.2L287.9 186.1H280.1Z"/>
<path d="M258.5 185.7L262.4 192.5H254.7Z"/>
<path d="M264.0 184.8L267.9 191.6H260.1Z"/>
<path d="M269.5 185.7L273.4 192.5H265.6Z"/>
<path d="M274.9 184.8L278.8 191.6H271.0Z"/>
<path d="M280.4 184.8L284.2 191.6H276.5Z"/>
<path d="M285.8 184.8L289.7 191.6H281.9Z"/>
<path d="M288.5 185.7L292.4 192.5H284.6Z"/>
<path d="M246.7 190.2L250.5 197.0H242.8Z"/>
<path d="M294.0 193.0L297.9 199.8H290.1Z"/>
<path d="M302.2 193.0L306.1 199.8H298.3Z"/>
<path d="M308.5 193.0L312.4 199.8H304.6Z"/>
<path d="M255.8 196.1L259.7 202.9H252.0Z"/>
<path d="M262.2 196.1L266.1 202.9H258.3Z"/>
<path d="M268.5 196.1L272.4 202.9H264.6Z"/>
<path d="M274.0 196.1L277.9 202.9H270.1Z"/>
<path d="M280.4 196.1L284.2 202.9H276.5Z"/>
<path d="M285.8 196.1L289.7 202.9H281.9Z"/>
<path d="M269.5 153.9L273.4 160.8H265.6Z"/>
<path d="M273.1 154.8L277.0 161.6H269.2Z"/>
<path d="M276.7 154.8L280.6 161.6H272.8Z"/>
<path d="M284.0 150.2L287.9 157.0H280.1Z"/>
<path d="M288.5 150.2L292.4 157.0H284.6Z"/>
<path d="M284.0 153.9L287.9 160.8H280.1Z"/>
<path d="M288.5 154.8L292.4 161.6H284.6Z"/>
<path d="M271.3 165.7L275.2 172.5H267.4Z"/>
<path d="M275.8 165.7L279.7 172.5H271.9Z"/>
<path d="M280.4 165.7L284.2 172.5H276.5Z"/>
<path d="M284.9 165.7L288.8 172.5H281.0Z"/>
<path d="M289.5 165.7L293.4 172.5H285.6Z"/>
<path d="M249.5 170.2L253.3 177.0H245.7Z"/>
<path d="M254.0 170.2L257.9 177.0H250.2Z"/>
<path d="M258.5 170.2L262.4 177.0H254.7Z"/>
<path d="M263.1 170.2L267.0 177.0H259.2Z"/>
<path d="M255.8 175.7L259.7 182.5H252.0Z"/>
<path d="M260.4 175.7L264.2 182.5H256.5Z"/>
<path d="M264.9 175.7L268.8 182.5H261.0Z"/>
<path d="M269.5 175.7L273.4 182.5H265.6Z"/>
<path d="M274.0 175.7L277.9 182.5H270.1Z"/>
<path d="M278.5 175.7L282.4 182.5H274.6Z"/>
<path d="M283.1 175.7L287.0 182.5H279.2Z"/>
<path d="M256.7 181.1L260.6 187.9H252.8Z"/>
<path d="M261.3 181.1L265.2 187.9H257.4Z"/>
<path d="M265.8 181.1L269.7 187.9H261.9Z"/>
<path d="M270.4 181.1L274.2 187.9H266.5Z"/>
<path d="M274.9 181.1L278.8 187.9H271.0Z"/>
<path d="M279.5 181.1L283.4 187.9H275.6Z"/>
<path d="M284.0 181.1L287.9 187.9H280.1Z"/>
<path d="M288.5 181.1L292.4 187.9H284.6Z"/>
<path d="M260.4 185.7L264.2 192.5H256.5Z"/>
<path d="M265.8 185.7L269.7 192.5H261.9Z"/>
<path d="M271.3 185.7L275.2 192.5H267.4Z"/>
<path d="M276.7 185.7L280.6 192.5H272.8Z"/>
<path d="M282.2 185.7L286.1 192.5H278.3Z"/>
<path d="M286.7 185.7L290.6 192.5H282.8Z"/>
<path d="M254.0 195.6L257.9 202.5H250.2Z"/>
<path d="M258.5 195.6L262.4 202.5H254.7Z"/>
<path d="M263.1 195.6L266.9 202.5H259.2Z"/>
<path d="M267.6 195.6L271.5 202.5H263.8Z"/>
<path d="M272.2 195.6L276.0 202.5H268.3Z"/>
<path d="M276.7 195.6L280.6 202.5H272.9Z"/>
<path d="M281.3 195.6L285.1 202.5H277.4Z"/>
<path d="M285.8 195.6L289.7 202.5H282.0Z"/>
</g>
<g clip-path="url(#p21)" fill="#3a59ad">
<path d="M284.9 209.2L288.8 216.1H281.0Z"/>
<path d="M288.5 209.2L292.4 216.1H284.6Z"/>
<path d="M239.5 219.2L243.3 226.1H235.7Z"/>
<path d="M244.0 219.2L247.8 226.1H240.2Z"/>
<path d="M271.6 219.2L275.5 226.1H267.8Z"/>
<path d="M273.1 232.1L277.0 238.9H269.2Z"/>
<path d="M278.5 232.1L282.4 238.9H274.6Z"/>
<path d="M270.4 236.6L274.2 243.4H266.5Z"/>
<path d="M239.5 240.2L243.3 247.0H235.7Z"/>
<path d="M251.3 240.2L255.2 247.0H247.5Z"/>
<path d="M261.3 240.2L265.2 247.0H257.4Z"/>
<path d="M280.4 240.2L284.2 247.0H276.5Z"/>
<path d="M284.9 240.2L288.8 247.0H281.0Z"/>
<path d="M288.5 241.1L292.4 247.9H284.6Z"/>
<path d="M269.5 237.5L273.4 244.3H265.6Z"/>
<path d="M274.0 237.5L277.9 244.3H270.1Z"/>
<path d="M263.1 252.9L267.0 259.8H259.2Z"/>
<path d="M267.6 252.9L271.5 259.8H263.8Z"/>
<path d="M272.2 252.9L276.1 259.8H268.3Z"/>
<path d="M249.5 262.1L253.3 268.9H245.7Z"/>
<path d="M254.0 261.1L257.9 267.9H250.2Z"/>
<path d="M257.6 262.1L261.5 268.9H253.8Z"/>
<path d="M265.8 262.1L269.7 268.9H261.9Z"/>
<path d="M300.4 262.1L304.2 268.9H296.5Z"/>
<path d="M307.6 262.1L311.5 268.9H303.8Z"/>
<path d="M259.5 268.4L263.4 275.2H255.7Z"/>
<path d="M256.7 272.1L260.6 278.9H252.8Z"/>
<path d="M262.2 272.1L266.1 278.9H258.3Z"/>
<path d="M254.0 275.7L257.9 282.6H250.2Z"/>
<path d="M259.5 275.7L263.4 282.6H255.7Z"/>
<path d="M264.9 275.7L268.8 282.6H261.0Z"/>
<path d="M269.5 272.1L273.4 278.9H265.6Z"/>
<path d="M276.7 271.1L280.6 277.9H272.8Z"/>
<path d="M282.2 269.2L286.1 276.1H278.3Z"/>
<path d="M287.6 268.4L291.5 275.2H283.8Z"/>
<path d="M292.2 269.2L296.1 276.1H288.3Z"/>
<path d="M278.5 274.8L282.4 281.6H274.6Z"/>
<path d="M284.0 273.9L287.9 280.8H280.1Z"/>
<path d="M291.3 272.9L295.2 279.8H287.4Z"/>
<path d="M267.6 279.2L271.5 286.1H263.8Z"/>
<path d="M274.0 279.2L277.9 286.1H270.1Z"/>
<path d="M280.4 280.2L284.2 287.1H276.5Z"/>
<path d="M270.4 282.9L274.2 289.8H266.5Z"/>
<path d="M277.6 282.9L281.5 289.8H273.8Z"/>
<path d="M283.1 283.4L287.0 290.3H279.2Z"/>
<path d="M244.0 286.6L247.8 293.4H240.2Z"/>
<path d="M251.3 286.6L255.2 293.4H247.5Z"/>
<path d="M258.5 286.6L262.4 293.4H254.7Z"/>
<path d="M264.9 286.6L268.8 293.4H261.0Z"/>
<path d="M271.3 286.6L275.2 293.4H267.4Z"/>
<path d="M278.5 286.6L282.4 293.4H274.6Z"/>
<path d="M294.0 286.1L297.9 292.9H290.1Z"/>
<path d="M302.2 286.1L306.1 292.9H298.3Z"/>
<path d="M308.5 286.1L312.4 292.9H304.6Z"/>
<path d="M258.5 267.4L262.4 274.3H254.7Z"/>
<path d="M255.8 271.1L259.7 277.9H252.0Z"/>
<path d="M261.3 271.1L265.2 277.9H257.4Z"/>
<path d="M253.1 274.8L256.9 281.6H249.2Z"/>
<path d="M258.5 274.8L262.4 281.6H254.7Z"/>
<path d="M264.0 274.8L267.9 281.6H260.1Z"/>
<path d="M268.5 275.7L272.4 282.6H264.6Z"/>
<path d="M256.7 277.4L260.6 284.3H252.8Z"/>
<path d="M262.2 277.4L266.1 284.3H258.3Z"/>
<path d="M273.1 271.1L277.0 277.9H269.2Z"/>
<path d="M278.5 271.1L282.4 277.9H274.6Z"/>
<path d="M284.0 271.1L287.9 277.9H280.1Z"/>
<path d="M289.5 270.2L293.4 277.1H285.6Z"/>
<path d="M271.3 275.7L275.2 282.6H267.4Z"/>
<path d="M276.7 275.7L280.6 282.6H272.8Z"/>
<path d="M282.2 275.7L286.1 282.6H278.3Z"/>
<path d="M287.6 273.9L291.5 280.8H283.8Z"/>
<path d="M269.5 280.2L273.4 287.1H265.6Z"/>
<path d="M274.9 281.1L278.8 287.9H271.0Z"/>
<path d="M280.4 281.1L284.2 287.9H276.5Z"/>
<path d="M284.0 280.2L287.9 287.1H280.1Z"/>
<path d="M267.6 284.2L271.5 291.1H263.8Z"/>
<path d="M273.1 284.2L277.0 291.1H269.2Z"/>
<path d="M278.5 284.2L282.4 291.1H274.6Z"/>
<path d="M284.0 284.2L287.9 291.1H280.1Z"/>
<path d="M241.3 286.6L245.1 293.4H237.4Z"/>
<path d="M245.8 286.6L249.7 293.4H242.0Z"/>
<path d="M250.4 286.6L254.2 293.4H246.5Z"/>
<path d="M254.9 286.6L258.8 293.4H251.1Z"/>
<path d="M259.5 286.6L263.3 293.4H255.6Z"/>
<path d="M264.0 286.6L267.9 293.4H260.1Z"/>
<path d="M268.5 286.6L272.4 293.4H264.7Z"/>
<path d="M273.1 286.6L276.9 293.4H269.2Z"/>
<path d="M277.6 286.6L281.5 293.4H273.8Z"/>
<path d="M282.2 286.6L286.0 293.4H278.3Z"/>
</g>
<g clip-path="url(#p31)" fill="#3a59ad">
<path d="M237.6 305.7L241.4 312.6H233.8Z"/>
<path d="M239.5 308.4L243.3 315.2H235.7Z"/>
<path d="M244.0 304.8L247.8 311.6H240.2Z"/>
<path d="M251.3 308.4L255.2 315.2H247.5Z"/>
<path d="M261.6 308.4L265.5 315.2H257.8Z"/>
<path d="M271.6 304.8L275.5 311.6H267.8Z"/>
<path d="M284.9 314.8L288.8 321.6H281.0Z"/>
<path d="M289.5 314.8L293.4 321.6H285.6Z"/>
<path d="M250.4 330.8L254.2 337.6H246.6Z"/>
<path d="M265.8 330.8L269.7 337.6H261.9Z"/>
<path d="M270.4 330.2L274.2 337.1H266.5Z"/>
<path d="M274.0 330.8L277.9 337.6H270.1Z"/>
<path d="M284.9 330.8L288.8 337.6H281.0Z"/>
<path d="M288.5 330.8L292.4 337.6H284.6Z"/>
<path d="M300.4 330.8L304.2 337.6H296.5Z"/>
<path d="M307.6 330.8L311.5 337.6H303.8Z"/>
<path d="M242.2 341.1L246.0 347.9H238.3Z"/>
<path d="M251.3 341.1L255.2 347.9H247.5Z"/>
<path d="M273.1 338.4L277.0 345.2H269.2Z"/>
<path d="M278.5 338.4L282.4 345.2H274.6Z"/>
<path d="M257.6 343.9L261.5 350.8H253.8Z"/>
<path d="M262.2 346.6L266.1 353.4H258.3Z"/>
<path d="M267.6 346.6L271.5 353.4H263.8Z"/>
<path d="M272.2 346.6L276.1 353.4H268.3Z"/>
<path d="M280.4 344.8L284.2 351.6H276.5Z"/>
<path d="M285.8 344.8L289.7 351.6H281.9Z"/>
<path d="M291.3 343.9L295.2 350.8H287.4Z"/>
<path d="M246.7 357.4L250.5 364.3H242.8Z"/>
<path d="M253.1 357.4L256.9 364.3H249.2Z"/>
<path d="M258.5 356.6L262.4 363.4H254.7Z"/>
<path d="M263.1 355.7L267.0 362.6H259.2Z"/>
<path d="M267.6 356.6L271.5 363.4H263.8Z"/>
<path d="M273.1 356.6L277.0 363.4H269.2Z"/>
<path d="M278.5 357.4L282.4 364.3H274.6Z"/>
<path d="M283.1 357.4L287.0 364.3H279.2Z"/>
<path d="M287.6 357.4L291.5 364.3H283.8Z"/>
<path d="M244.9 362.9L248.8 369.8H241.1Z"/>
<path d="M250.4 362.1L254.2 368.9H246.6Z"/>
<path d="M255.8 361.1L259.7 367.9H252.0Z"/>
<path d="M261.3 362.1L265.2 368.9H257.4Z"/>
<path d="M266.7 362.1L270.6 368.9H262.8Z"/>
<path d="M272.2 362.9L276.1 369.8H268.3Z"/>
<path d="M277.6 363.9L281.5 370.8H273.8Z"/>
<path d="M283.1 363.9L287.0 370.8H279.2Z"/>
<path d="M291.3 364.8L295.2 371.6H287.4Z"/>
<path d="M294.0 369.2L297.9 376.1H290.1Z"/>
<path d="M302.2 369.2L306.1 376.1H298.3Z"/>
<path d="M308.5 369.2L312.4 376.1H304.6Z"/>
<path d="M276.7 370.2L280.6 377.1H272.8Z"/>
<path d="M282.2 370.2L286.1 377.1H278.3Z"/>
<path d="M258.5 371.1L262.4 377.9H254.7Z"/>
<path d="M264.0 371.1L267.9 377.9H260.1Z"/>
<path d="M254.9 376.1L258.8 382.9H251.1Z"/>
<path d="M245.8 360.2L249.7 367.1H242.0Z"/>
<path d="M251.3 360.2L255.2 367.1H247.5Z"/>
<path d="M256.7 360.2L260.6 367.1H252.8Z"/>
<path d="M262.2 360.2L266.1 367.1H258.3Z"/>
<path d="M267.6 360.2L271.5 367.1H263.8Z"/>
<path d="M273.1 360.2L277.0 367.1H269.2Z"/>
<path d="M278.5 360.2L282.4 367.1H274.6Z"/>
<path d="M284.0 360.2L287.9 367.1H280.1Z"/>
<path d="M247.6 364.8L251.4 371.6H243.8Z"/>
<path d="M253.1 364.8L256.9 371.6H249.2Z"/>
<path d="M258.5 364.8L262.4 371.6H254.7Z"/>
<path d="M264.0 364.8L267.9 371.6H260.1Z"/>
<path d="M269.5 364.8L273.4 371.6H265.6Z"/>
<path d="M274.9 364.8L278.8 371.6H271.0Z"/>
<path d="M280.4 364.8L284.2 371.6H276.5Z"/>
<path d="M285.8 364.8L289.7 371.6H281.9Z"/>
<path d="M267.6 367.4L271.5 374.3H263.8Z"/>
<path d="M273.1 367.4L277.0 374.3H269.2Z"/>
<path d="M278.5 367.4L282.4 374.3H274.6Z"/>
<path d="M284.0 367.4L287.9 374.3H280.1Z"/>
<path d="M274.9 372.1L278.8 378.9H271.0Z"/>
<path d="M279.5 372.1L283.4 378.9H275.6Z"/>
<path d="M284.0 372.1L287.9 378.9H280.1Z"/>
<path d="M275.8 337.4L279.7 344.3H271.9Z"/>
<path d="M260.4 345.7L264.2 352.6H256.5Z"/>
<path d="M264.9 345.7L268.8 352.6H261.0Z"/>
<path d="M269.5 345.7L273.4 352.6H265.6Z"/>
<path d="M274.0 345.7L277.9 352.6H270.1Z"/>
<path d="M282.2 343.9L286.1 350.8H278.3Z"/>
<path d="M286.7 343.9L290.6 350.8H282.8Z"/>
</g>
<g clip-path="url(#p02)" fill="#ff5f00">
<path d="M337.4 41.6L343.3 46.9L337.4 52.2L331.5 46.9Z"/>
<path d="M373.7 31.1L379.6 36.4L373.7 41.7L367.8 36.4Z"/>
<path d="M384.6 30.2L390.5 35.5L384.6 40.8L378.7 35.5Z"/>
<path d="M377.4 36.5L383.3 41.8L377.4 47.1L371.5 41.8Z"/>
<path d="M390.1 34.7L396.0 40.0L390.1 45.3L384.2 40.0Z"/>
<path d="M382.8 38.3L388.7 43.6L382.8 48.9L376.9 43.6Z"/>
<path d="M374.6 41.6L380.5 46.9L374.6 52.2L368.7 46.9Z"/>
<path d="M387.4 41.6L393.3 46.9L387.4 52.2L381.5 46.9Z"/>
<path d="M402.8 41.6L408.7 46.9L402.8 52.2L396.9 46.9Z"/>
<path d="M343.7 60.2L349.6 65.5L343.7 70.8L337.8 65.5Z"/>
<path d="M350.1 65.6L356.0 70.9L350.1 76.2L344.2 70.9Z"/>
<path d="M363.7 60.2L369.6 65.5L363.7 70.8L357.8 65.5Z"/>
<path d="M371.0 59.2L376.9 64.5L371.0 69.8L365.1 64.5Z"/>
<path d="M377.4 58.3L383.3 63.6L377.4 68.9L371.5 63.6Z"/>
<path d="M384.6 58.3L390.5 63.6L384.6 68.9L378.7 63.6Z"/>
<path d="M391.9 58.3L397.8 63.6L391.9 68.9L386.0 63.6Z"/>
<path d="M397.4 58.3L403.3 63.6L397.4 68.9L391.5 63.6Z"/>
<path d="M406.5 60.2L412.4 65.5L406.5 70.8L400.6 65.5Z"/>
<path d="M375.5 65.6L381.4 70.9L375.5 76.2L369.6 70.9Z"/>
<path d="M382.8 63.8L388.7 69.1L382.8 74.4L376.9 69.1Z"/>
<path d="M390.1 65.6L396.0 70.9L390.1 76.2L384.2 70.9Z"/>
<path d="M397.4 65.6L403.3 70.9L397.4 76.2L391.5 70.9Z"/>
<path d="M402.8 63.8L408.7 69.1L402.8 74.4L396.9 69.1Z"/>
<path d="M381.0 71.1L386.9 76.4L381.0 81.7L375.1 76.4Z"/>
<path d="M388.3 70.2L394.2 75.5L388.3 80.8L382.4 75.5Z"/>
<path d="M357.4 69.2L363.3 74.5L357.4 79.8L351.5 74.5Z"/>
<path d="M364.6 70.2L370.5 75.5L364.6 80.8L358.7 75.5Z"/>
<path d="M330.1 72.9L336.0 78.2L330.1 83.5L324.2 78.2Z"/>
<path d="M335.5 76.5L341.4 81.8L335.5 87.1L329.6 81.8Z"/>
<path d="M326.5 82.0L332.4 87.3L326.5 92.6L320.6 87.3Z"/>
<path d="M351.9 75.6L357.8 80.9L351.9 86.2L346.0 80.9Z"/>
<path d="M359.2 75.6L365.1 80.9L359.2 86.2L353.3 80.9Z"/>
<path d="M366.5 75.6L372.4 80.9L366.5 86.2L360.6 80.9Z"/>
<path d="M375.5 75.6L381.4 80.9L375.5 86.2L369.6 80.9Z"/>
<path d="M341.0 82.0L346.9 87.3L341.0 92.6L335.1 87.3Z"/>
<path d="M348.3 82.0L354.2 87.3L348.3 92.6L342.4 87.3Z"/>
<path d="M355.5 82.0L361.4 87.3L355.5 92.6L349.6 87.3Z"/>
<path d="M362.8 81.1L368.7 86.4L362.8 91.7L356.9 86.4Z"/>
<path d="M370.1 81.1L376.0 86.4L370.1 91.7L364.2 86.4Z"/>
<path d="M377.4 80.2L383.3 85.5L377.4 90.8L371.5 85.5Z"/>
<path d="M384.6 82.0L390.5 87.3L384.6 92.6L378.7 87.3Z"/>
<path d="M391.9 82.0L397.8 87.3L391.9 92.6L386.0 87.3Z"/>
<path d="M399.2 85.6L405.1 90.9L399.2 96.2L393.3 90.9Z"/>
<path d="M337.4 87.4L343.3 92.7L337.4 98.0L331.5 92.7Z"/>
<path d="M344.6 88.3L350.5 93.6L344.6 98.9L338.7 93.6Z"/>
<path d="M351.9 87.4L357.8 92.7L351.9 98.0L346.0 92.7Z"/>
<path d="M359.2 87.4L365.1 92.7L359.2 98.0L353.3 92.7Z"/>
<path d="M366.5 87.4L372.4 92.7L366.5 98.0L360.6 92.7Z"/>
<path d="M373.7 87.4L379.6 92.7L373.7 98.0L367.8 92.7Z"/>
<path d="M381.0 87.4L386.9 92.7L381.0 98.0L375.1 92.7Z"/>
<path d="M388.3 88.3L394.2 93.6L388.3 98.9L382.4 93.6Z"/>
<path d="M395.5 88.3L401.4 93.6L395.5 98.9L389.6 93.6Z"/>
<path d="M341.0 98.3L346.9 103.6L341.0 108.9L335.1 103.6Z"/>
<path d="M355.5 98.3L361.4 103.6L355.5 108.9L349.6 103.6Z"/>
<path d="M364.6 97.4L370.5 102.7L364.6 108.0L358.7 102.7Z"/>
<path d="M371.9 96.5L377.8 101.8L371.9 107.1L366.0 101.8Z"/>
<path d="M382.8 96.5L388.7 101.8L382.8 107.1L376.9 101.8Z"/>
<path d="M390.1 96.5L396.0 101.8L390.1 107.1L384.2 101.8Z"/>
<path d="M348.3 92.9L354.2 98.2L348.3 103.5L342.4 98.2Z"/>
<path d="M362.8 92.9L368.7 98.2L362.8 103.5L356.9 98.2Z"/>
<path d="M370.1 92.0L376.0 97.3L370.1 102.6L364.2 97.3Z"/>
<path d="M377.4 92.9L383.3 98.2L377.4 103.5L371.5 98.2Z"/>
<path d="M371.6 61.5L377.5 66.8L371.6 72.1L365.7 66.8Z"/>
<path d="M379.1 61.5L385.0 66.8L379.1 72.1L373.2 66.8Z"/>
<path d="M386.5 62.5L392.4 67.8L386.5 73.1L380.6 67.8Z"/>
<path d="M394.0 62.5L399.9 67.8L394.0 73.1L388.1 67.8Z"/>
<path d="M375.3 67.1L381.2 72.4L375.3 77.7L369.4 72.4Z"/>
<path d="M382.8 67.1L388.7 72.4L382.8 77.7L376.9 72.4Z"/>
<path d="M390.3 67.1L396.2 72.4L390.3 77.7L384.4 72.4Z"/>
<path d="M352.8 70.9L358.7 76.2L352.8 81.5L346.9 76.2Z"/>
<path d="M360.3 70.9L366.2 76.2L360.3 81.5L354.4 76.2Z"/>
<path d="M367.8 70.9L373.7 76.2L367.8 81.5L361.9 76.2Z"/>
<path d="M347.2 78.4L353.1 83.7L347.2 89.0L341.3 83.7Z"/>
<path d="M354.7 78.4L360.6 83.7L354.7 89.0L348.8 83.7Z"/>
<path d="M362.2 78.4L368.1 83.7L362.2 89.0L356.3 83.7Z"/>
<path d="M369.7 78.4L375.6 83.7L369.7 89.0L363.8 83.7Z"/>
<path d="M377.2 78.4L383.1 83.7L377.2 89.0L371.3 83.7Z"/>
<path d="M384.7 78.4L390.6 83.7L384.7 89.0L378.8 83.7Z"/>
<path d="M392.2 78.4L398.1 83.7L392.2 89.0L386.3 83.7Z"/>
<path d="M339.7 85.9L345.6 91.2L339.7 96.5L333.8 91.2Z"/>
<path d="M347.2 85.9L353.1 91.2L347.2 96.5L341.3 91.2Z"/>
<path d="M354.7 85.9L360.6 91.2L354.7 96.5L348.8 91.2Z"/>
<path d="M362.2 85.9L368.1 91.2L362.2 96.5L356.3 91.2Z"/>
<path d="M369.7 85.9L375.6 91.2L369.7 96.5L363.8 91.2Z"/>
<path d="M377.2 85.9L383.1 91.2L377.2 96.5L371.3 91.2Z"/>
<path d="M384.7 85.9L390.6 91.2L384.7 96.5L378.8 91.2Z"/>
<path d="M392.2 85.9L398.1 91.2L392.2 96.5L386.3 91.2Z"/>
<path d="M399.7 85.9L405.6 91.2L399.7 96.5L393.8 91.2Z"/>
<path d="M339.7 91.5L345.6 96.8L339.7 102.1L333.8 96.8Z"/>
<path d="M347.2 91.5L353.1 96.8L347.2 102.1L341.3 96.8Z"/>
<path d="M354.7 91.5L360.6 96.8L354.7 102.1L348.8 96.8Z"/>
<path d="M362.2 91.5L368.1 96.8L362.2 102.1L356.3 96.8Z"/>
<path d="M369.7 91.5L375.6 96.8L369.7 102.1L363.8 96.8Z"/>
<path d="M377.2 91.5L383.1 96.8L377.2 102.1L371.3 96.8Z"/>
<path d="M384.7 91.5L390.6 96.8L384.7 102.1L378.8 96.8Z"/>
<path d="M392.2 91.5L398.1 96.8L392.2 102.1L386.3 96.8Z"/>
<path d="M343.5 97.1L349.4 102.4L343.5 107.7L337.6 102.4Z"/>
<path d="M354.7 97.1L360.6 102.4L354.7 107.7L348.8 102.4Z"/>
<path d="M365.9 97.1L371.8 102.4L365.9 107.7L360.0 102.4Z"/>
<path d="M377.2 97.1L383.1 102.4L377.2 107.7L371.3 102.4Z"/>
<path d="M386.5 97.1L392.4 102.4L386.5 107.7L380.6 102.4Z"/>
<path d="M341.6 99.9L347.5 105.2L341.6 110.5L335.7 105.2Z"/>
<path d="M356.6 99.9L362.5 105.2L356.6 110.5L350.7 105.2Z"/>
<path d="M365.9 99.9L371.8 105.2L365.9 110.5L360.0 105.2Z"/>
<path d="M375.3 99.9L381.2 105.2L375.3 110.5L369.4 105.2Z"/>
<path d="M342.0 79.7L347.9 85.0L342.0 90.3L336.1 85.0Z"/>
<path d="M346.5 79.7L352.4 85.0L346.5 90.3L340.6 85.0Z"/>
<path d="M351.0 79.7L356.9 85.0L351.0 90.3L345.1 85.0Z"/>
<path d="M355.5 79.7L361.4 85.0L355.5 90.3L349.6 85.0Z"/>
<path d="M360.0 79.7L365.9 85.0L360.0 90.3L354.1 85.0Z"/>
<path d="M364.5 79.7L370.4 85.0L364.5 90.3L358.6 85.0Z"/>
<path d="M369.0 79.7L374.9 85.0L369.0 90.3L363.1 85.0Z"/>
<path d="M373.5 79.7L379.4 85.0L373.5 90.3L367.6 85.0Z"/>
<path d="M378.0 79.7L383.9 85.0L378.0 90.3L372.1 85.0Z"/>
<path d="M382.5 79.7L388.4 85.0L382.5 90.3L376.6 85.0Z"/>
<path d="M387.0 79.7L392.9 85.0L387.0 90.3L381.1 85.0Z"/>
<path d="M391.5 79.7L397.4 85.0L391.5 90.3L385.6 85.0Z"/>
<path d="M396.0 79.7L401.9 85.0L396.0 90.3L390.1 85.0Z"/>
<path d="M336.0 84.7L341.9 90.0L336.0 95.3L330.1 90.0Z"/>
<path d="M340.5 84.7L346.4 90.0L340.5 95.3L334.6 90.0Z"/>
<path d="M345.0 84.7L350.9 90.0L345.0 95.3L339.1 90.0Z"/>
<path d="M349.5 84.7L355.4 90.0L349.5 95.3L343.6 90.0Z"/>
<path d="M354.0 84.7L359.9 90.0L354.0 95.3L348.1 90.0Z"/>
<path d="M358.5 84.7L364.4 90.0L358.5 95.3L352.6 90.0Z"/>
<path d="M363.0 84.7L368.9 90.0L363.0 95.3L357.1 90.0Z"/>
<path d="M367.5 84.7L373.4 90.0L367.5 95.3L361.6 90.0Z"/>
<path d="M372.0 84.7L377.9 90.0L372.0 95.3L366.1 90.0Z"/>
<path d="M376.5 84.7L382.4 90.0L376.5 95.3L370.6 90.0Z"/>
<path d="M381.0 84.7L386.9 90.0L381.0 95.3L375.1 90.0Z"/>
<path d="M385.5 84.7L391.4 90.0L385.5 95.3L379.6 90.0Z"/>
<path d="M390.0 84.7L395.9 90.0L390.0 95.3L384.1 90.0Z"/>
<path d="M394.5 84.7L400.4 90.0L394.5 95.3L388.6 90.0Z"/>
<path d="M399.0 84.7L404.9 90.0L399.0 95.3L393.1 90.0Z"/>
<path d="M336.0 89.7L341.9 95.0L336.0 100.3L330.1 95.0Z"/>
<path d="M340.5 89.7L346.4 95.0L340.5 100.3L334.6 95.0Z"/>
<path d="M345.0 89.7L350.9 95.0L345.0 100.3L339.1 95.0Z"/>
<path d="M349.5 89.7L355.4 95.0L349.5 100.3L343.6 95.0Z"/>
<path d="M354.0 89.7L359.9 95.0L354.0 100.3L348.1 95.0Z"/>
<path d="M358.5 89.7L364.4 95.0L358.5 100.3L352.6 95.0Z"/>
<path d="M363.0 89.7L368.9 95.0L363.0 100.3L357.1 95.0Z"/>
<path d="M367.5 89.7L373.4 95.0L367.5 100.3L361.6 95.0Z"/>
<path d="M372.0 89.7L377.9 95.0L372.0 100.3L366.1 95.0Z"/>
<path d="M376.5 89.7L382.4 95.0L376.5 100.3L370.6 95.0Z"/>
<path d="M381.0 89.7L386.9 95.0L381.0 100.3L375.1 95.0Z"/>
<path d="M385.5 89.7L391.4 95.0L385.5 100.3L379.6 95.0Z"/>
<path d="M390.0 89.7L395.9 95.0L390.0 100.3L384.1 95.0Z"/>
<path d="M394.5 89.7L400.4 95.0L394.5 100.3L388.6 95.0Z"/>
<path d="M338.0 94.7L343.9 100.0L338.0 105.3L332.1 100.0Z"/>
<path d="M342.5 94.7L348.4 100.0L342.5 105.3L336.6 100.0Z"/>
<path d="M347.0 94.7L352.9 100.0L347.0 105.3L341.1 100.0Z"/>
<path d="M351.5 94.7L357.4 100.0L351.5 105.3L345.6 100.0Z"/>
<path d="M356.0 94.7L361.9 100.0L356.0 105.3L350.1 100.0Z"/>
<path d="M360.5 94.7L366.4 100.0L360.5 105.3L354.6 100.0Z"/>
<path d="M365.0 94.7L370.9 100.0L365.0 105.3L359.1 100.0Z"/>
<path d="M369.5 94.7L375.4 100.0L369.5 105.3L363.6 100.0Z"/>
<path d="M374.0 94.7L379.9 100.0L374.0 105.3L368.1 100.0Z"/>
<path d="M378.5 94.7L384.4 100.0L378.5 105.3L372.6 100.0Z"/>
<path d="M383.0 94.7L388.9 100.0L383.0 105.3L377.1 100.0Z"/>
<path d="M387.5 94.7L393.4 100.0L387.5 105.3L381.6 100.0Z"/>
<path d="M392.0 94.7L397.9 100.0L392.0 105.3L386.1 100.0Z"/>
</g>
<g clip-path="url(#p12)" fill="#ff5f00">
<path d="M373.7 125.6L379.6 130.9L373.7 136.2L367.8 130.9Z"/>
<path d="M380.1 127.4L386.0 132.7L380.1 138.0L374.2 132.7Z"/>
<path d="M384.6 124.7L390.5 130.0L384.6 135.3L378.7 130.0Z"/>
<path d="M390.1 128.3L396.0 133.6L390.1 138.9L384.2 133.6Z"/>
<path d="M375.5 128.3L381.4 133.6L375.5 138.9L369.6 133.6Z"/>
<path d="M385.5 130.2L391.4 135.5L385.5 140.8L379.6 135.5Z"/>
<path d="M337.4 151.1L343.3 156.4L337.4 161.7L331.5 156.4Z"/>
<path d="M343.7 150.2L349.6 155.5L343.7 160.8L337.8 155.5Z"/>
<path d="M349.2 155.6L355.1 160.9L349.2 166.2L343.3 160.9Z"/>
<path d="M362.8 150.2L368.7 155.5L362.8 160.8L356.9 155.5Z"/>
<path d="M370.1 150.2L376.0 155.5L370.1 160.8L364.2 155.5Z"/>
<path d="M377.4 148.3L383.3 153.6L377.4 158.9L371.5 153.6Z"/>
<path d="M384.6 148.3L390.5 153.6L384.6 158.9L378.7 153.6Z"/>
<path d="M391.9 149.2L397.8 154.5L391.9 159.8L386.0 154.5Z"/>
<path d="M397.4 150.2L403.3 155.5L397.4 160.8L391.5 155.5Z"/>
<path d="M402.8 152.0L408.7 157.3L402.8 162.6L396.9 157.3Z"/>
<path d="M373.7 155.6L379.6 160.9L373.7 166.2L367.8 160.9Z"/>
<path d="M381.0 155.6L386.9 160.9L381.0 166.2L375.1 160.9Z"/>
<path d="M388.3 155.6L394.2 160.9L388.3 166.2L382.4 160.9Z"/>
<path d="M395.5 155.6L401.4 160.9L395.5 166.2L389.6 160.9Z"/>
<path d="M406.5 164.7L412.4 170.0L406.5 175.3L400.6 170.0Z"/>
<path d="M393.7 162.9L399.6 168.2L393.7 173.5L387.8 168.2Z"/>
<path d="M357.4 162.9L363.3 168.2L357.4 173.5L351.5 168.2Z"/>
<path d="M364.6 162.0L370.5 167.3L364.6 172.6L358.7 167.3Z"/>
<path d="M371.9 162.0L377.8 167.3L371.9 172.6L366.0 167.3Z"/>
<path d="M379.2 162.0L385.1 167.3L379.2 172.6L373.3 167.3Z"/>
<path d="M386.5 162.9L392.4 168.2L386.5 173.5L380.6 168.2Z"/>
<path d="M335.5 167.4L341.4 172.7L335.5 178.0L329.6 172.7Z"/>
<path d="M326.5 172.0L332.4 177.3L326.5 182.6L320.6 177.3Z"/>
<path d="M330.1 182.9L336.0 188.2L330.1 193.5L324.2 188.2Z"/>
<path d="M344.6 172.0L350.5 177.3L344.6 182.6L338.7 177.3Z"/>
<path d="M351.9 170.2L357.8 175.5L351.9 180.8L346.0 175.5Z"/>
<path d="M359.2 169.2L365.1 174.5L359.2 179.8L353.3 174.5Z"/>
<path d="M366.5 169.2L372.4 174.5L366.5 179.8L360.6 174.5Z"/>
<path d="M373.7 168.3L379.6 173.6L373.7 178.9L367.8 173.6Z"/>
<path d="M381.0 169.2L386.9 174.5L381.0 179.8L375.1 174.5Z"/>
<path d="M388.3 168.3L394.2 173.6L388.3 178.9L382.4 173.6Z"/>
<path d="M393.7 170.2L399.6 175.5L393.7 180.8L387.8 175.5Z"/>
<path d="M342.8 179.2L348.7 184.5L342.8 189.8L336.9 184.5Z"/>
<path d="M350.1 177.4L356.0 182.7L350.1 188.0L344.2 182.7Z"/>
<path d="M357.4 176.5L363.3 181.8L357.4 187.1L351.5 181.8Z"/>
<path d="M364.6 176.5L370.5 181.8L364.6 187.1L358.7 181.8Z"/>
<path d="M371.9 175.6L377.8 180.9L371.9 186.2L366.0 180.9Z"/>
<path d="M379.2 176.5L385.1 181.8L379.2 187.1L373.3 181.8Z"/>
<path d="M386.5 176.5L392.4 181.8L386.5 187.1L380.6 181.8Z"/>
<path d="M393.7 176.5L399.6 181.8L393.7 187.1L387.8 181.8Z"/>
<path d="M399.2 179.2L405.1 184.5L399.2 189.8L393.3 184.5Z"/>
<path d="M344.6 184.7L350.5 190.0L344.6 195.3L338.7 190.0Z"/>
<path d="M351.9 183.8L357.8 189.1L351.9 194.4L346.0 189.1Z"/>
<path d="M359.2 183.8L365.1 189.1L359.2 194.4L353.3 189.1Z"/>
<path d="M366.5 183.8L372.4 189.1L366.5 194.4L360.6 189.1Z"/>
<path d="M373.7 182.9L379.6 188.2L373.7 193.5L367.8 188.2Z"/>
<path d="M381.0 182.9L386.9 188.2L381.0 193.5L375.1 188.2Z"/>
<path d="M388.3 182.9L394.2 188.2L388.3 193.5L382.4 188.2Z"/>
<path d="M395.5 183.8L401.4 189.1L395.5 194.4L389.6 189.1Z"/>
<path d="M401.0 183.8L406.9 189.1L401.0 194.4L395.1 189.1Z"/>
<path d="M339.2 192.0L345.1 197.3L339.2 202.6L333.3 197.3Z"/>
<path d="M346.5 191.1L352.4 196.4L346.5 201.7L340.6 196.4Z"/>
<path d="M353.7 190.2L359.6 195.5L353.7 200.8L347.8 195.5Z"/>
<path d="M361.0 191.1L366.9 196.4L361.0 201.7L355.1 196.4Z"/>
<path d="M368.3 191.1L374.2 196.4L368.3 201.7L362.4 196.4Z"/>
<path d="M375.5 191.1L381.4 196.4L375.5 201.7L369.6 196.4Z"/>
<path d="M382.8 190.2L388.7 195.5L382.8 200.8L376.9 195.5Z"/>
<path d="M390.1 191.1L396.0 196.4L390.1 201.7L384.2 196.4Z"/>
<path d="M395.5 192.0L401.4 197.3L395.5 202.6L389.6 197.3Z"/>
<path d="M342.0 194.5L347.9 199.8L342.0 205.1L336.1 199.8Z"/>
<path d="M350.0 194.5L355.9 199.8L350.0 205.1L344.1 199.8Z"/>
<path d="M358.0 194.5L363.9 199.8L358.0 205.1L352.1 199.8Z"/>
<path d="M366.0 194.5L371.9 199.8L366.0 205.1L360.1 199.8Z"/>
<path d="M374.0 194.5L379.9 199.8L374.0 205.1L368.1 199.8Z"/>
<path d="M382.0 194.5L387.9 199.8L382.0 205.1L376.1 199.8Z"/>
<path d="M390.0 194.5L395.9 199.8L390.0 205.1L384.1 199.8Z"/>
<path d="M355.0 159.7L360.9 165.0L355.0 170.3L349.1 165.0Z"/>
<path d="M359.5 159.7L365.4 165.0L359.5 170.3L353.6 165.0Z"/>
<path d="M364.0 159.7L369.9 165.0L364.0 170.3L358.1 165.0Z"/>
<path d="M368.5 159.7L374.4 165.0L368.5 170.3L362.6 165.0Z"/>
<path d="M373.0 159.7L378.9 165.0L373.0 170.3L367.1 165.0Z"/>
<path d="M377.5 159.7L383.4 165.0L377.5 170.3L371.6 165.0Z"/>
<path d="M382.0 159.7L387.9 165.0L382.0 170.3L376.1 165.0Z"/>
<path d="M386.5 159.7L392.4 165.0L386.5 170.3L380.6 165.0Z"/>
<path d="M391.0 159.7L396.9 165.0L391.0 170.3L385.1 165.0Z"/>
<path d="M345.0 164.7L350.9 170.0L345.0 175.3L339.1 170.0Z"/>
<path d="M349.5 164.7L355.4 170.0L349.5 175.3L343.6 170.0Z"/>
<path d="M354.0 164.7L359.9 170.0L354.0 175.3L348.1 170.0Z"/>
<path d="M358.5 164.7L364.4 170.0L358.5 175.3L352.6 170.0Z"/>
<path d="M363.0 164.7L368.9 170.0L363.0 175.3L357.1 170.0Z"/>
<path d="M367.5 164.7L373.4 170.0L367.5 175.3L361.6 170.0Z"/>
<path d="M372.0 164.7L377.9 170.0L372.0 175.3L366.1 170.0Z"/>
<path d="M376.5 164.7L382.4 170.0L376.5 175.3L370.6 170.0Z"/>
<path d="M381.0 164.7L386.9 170.0L381.0 175.3L375.1 170.0Z"/>
<path d="M385.5 164.7L391.4 170.0L385.5 175.3L379.6 170.0Z"/>
<path d="M390.0 164.7L395.9 170.0L390.0 175.3L384.1 170.0Z"/>
<path d="M394.5 164.7L400.4 170.0L394.5 175.3L388.6 170.0Z"/>
<path d="M399.0 164.7L404.9 170.0L399.0 175.3L393.1 170.0Z"/>
<path d="M340.0 169.7L345.9 175.0L340.0 180.3L334.1 175.0Z"/>
<path d="M344.5 169.7L350.4 175.0L344.5 180.3L338.6 175.0Z"/>
<path d="M349.0 169.7L354.9 175.0L349.0 180.3L343.1 175.0Z"/>
<path d="M353.5 169.7L359.4 175.0L353.5 180.3L347.6 175.0Z"/>
<path d="M358.0 169.7L363.9 175.0L358.0 180.3L352.1 175.0Z"/>
<path d="M362.5 169.7L368.4 175.0L362.5 180.3L356.6 175.0Z"/>
<path d="M367.0 169.7L372.9 175.0L367.0 180.3L361.1 175.0Z"/>
<path d="M371.5 169.7L377.4 175.0L371.5 180.3L365.6 175.0Z"/>
<path d="M376.0 169.7L381.9 175.0L376.0 180.3L370.1 175.0Z"/>
<path d="M380.5 169.7L386.4 175.0L380.5 180.3L374.6 175.0Z"/>
<path d="M385.0 169.7L390.9 175.0L385.0 180.3L379.1 175.0Z"/>
<path d="M389.5 169.7L395.4 175.0L389.5 180.3L383.6 175.0Z"/>
<path d="M394.0 169.7L399.9 175.0L394.0 180.3L388.1 175.0Z"/>
<path d="M398.5 169.7L404.4 175.0L398.5 180.3L392.6 175.0Z"/>
<path d="M338.0 174.7L343.9 180.0L338.0 185.3L332.1 180.0Z"/>
<path d="M342.5 174.7L348.4 180.0L342.5 185.3L336.6 180.0Z"/>
<path d="M347.0 174.7L352.9 180.0L347.0 185.3L341.1 180.0Z"/>
<path d="M351.5 174.7L357.4 180.0L351.5 185.3L345.6 180.0Z"/>
<path d="M356.0 174.7L361.9 180.0L356.0 185.3L350.1 180.0Z"/>
<path d="M360.5 174.7L366.4 180.0L360.5 185.3L354.6 180.0Z"/>
<path d="M365.0 174.7L370.9 180.0L365.0 185.3L359.1 180.0Z"/>
<path d="M369.5 174.7L375.4 180.0L369.5 185.3L363.6 180.0Z"/>
<path d="M374.0 174.7L379.9 180.0L374.0 185.3L368.1 180.0Z"/>
<path d="M378.5 174.7L384.4 180.0L378.5 185.3L372.6 180.0Z"/>
<path d="M383.0 174.7L388.9 180.0L383.0 185.3L377.1 180.0Z"/>
<path d="M387.5 174.7L393.4 180.0L387.5 185.3L381.6 180.0Z"/>
<path d="M392.0 174.7L397.9 180.0L392.0 185.3L386.1 180.0Z"/>
<path d="M396.5 174.7L402.4 180.0L396.5 185.3L390.6 180.0Z"/>
<path d="M401.0 174.7L406.9 180.0L401.0 185.3L395.1 180.0Z"/>
<path d="M338.0 179.7L343.9 185.0L338.0 190.3L332.1 185.0Z"/>
<path d="M342.5 179.7L348.4 185.0L342.5 190.3L336.6 185.0Z"/>
<path d="M347.0 179.7L352.9 185.0L347.0 190.3L341.1 185.0Z"/>
<path d="M351.5 179.7L357.4 185.0L351.5 190.3L345.6 185.0Z"/>
<path d="M356.0 179.7L361.9 185.0L356.0 190.3L350.1 185.0Z"/>
<path d="M360.5 179.7L366.4 185.0L360.5 190.3L354.6 185.0Z"/>
<path d="M365.0 179.7L370.9 185.0L365.0 190.3L359.1 185.0Z"/>
<path d="M369.5 179.7L375.4 185.0L369.5 190.3L363.6 185.0Z"/>
<path d="M374.0 179.7L379.9 185.0L374.0 190.3L368.1 185.0Z"/>
<path d="M378.5 179.7L384.4 185.0L378.5 190.3L372.6 185.0Z"/>
<path d="M383.0 179.7L388.9 185.0L383.0 190.3L377.1 185.0Z"/>
<path d="M387.5 179.7L393.4 185.0L387.5 190.3L381.6 185.0Z"/>
<path d="M392.0 179.7L397.9 185.0L392.0 190.3L386.1 185.0Z"/>
<path d="M396.5 179.7L402.4 185.0L396.5 190.3L390.6 185.0Z"/>
<path d="M401.0 179.7L406.9 185.0L401.0 190.3L395.1 185.0Z"/>
<path d="M338.0 184.7L343.9 190.0L338.0 195.3L332.1 190.0Z"/>
<path d="M342.5 184.7L348.4 190.0L342.5 195.3L336.6 190.0Z"/>
<path d="M347.0 184.7L352.9 190.0L347.0 195.3L341.1 190.0Z"/>
<path d="M351.5 184.7L357.4 190.0L351.5 195.3L345.6 190.0Z"/>
<path d="M356.0 184.7L361.9 190.0L356.0 195.3L350.1 190.0Z"/>
<path d="M360.5 184.7L366.4 190.0L360.5 195.3L354.6 190.0Z"/>
<path d="M365.0 184.7L370.9 190.0L365.0 195.3L359.1 190.0Z"/>
<path d="M369.5 184.7L375.4 190.0L369.5 195.3L363.6 190.0Z"/>
<path d="M374.0 184.7L379.9 190.0L374.0 195.3L368.1 190.0Z"/>
<path d="M378.5 184.7L384.4 190.0L378.5 195.3L372.6 190.0Z"/>
<path d="M383.0 184.7L388.9 190.0L383.0 195.3L377.1 190.0Z"/>
<path d="M387.5 184.7L393.4 190.0L387.5 195.3L381.6 190.0Z"/>
<path d="M392.0 184.7L397.9 190.0L392.0 195.3L386.1 190.0Z"/>
<path d="M396.5 184.7L402.4 190.0L396.5 195.3L390.6 190.0Z"/>
<path d="M401.0 184.7L406.9 190.0L401.0 195.3L395.1 190.0Z"/>
<path d="M338.0 189.7L343.9 195.0L338.0 200.3L332.1 195.0Z"/>
<path d="M342.5 189.7L348.4 195.0L342.5 200.3L336.6 195.0Z"/>
<path d="M347.0 189.7L352.9 195.0L347.0 200.3L341.1 195.0Z"/>
<path d="M351.5 189.7L357.4 195.0L351.5 200.3L345.6 195.0Z"/>
<path d="M356.0 189.7L361.9 195.0L356.0 200.3L350.1 195.0Z"/>
<path d="M360.5 189.7L366.4 195.0L360.5 200.3L354.6 195.0Z"/>
<path d="M365.0 189.7L370.9 195.0L365.0 200.3L359.1 195.0Z"/>
<path d="M369.5 189.7L375.4 195.0L369.5 200.3L363.6 195.0Z"/>
<path d="M374.0 189.7L379.9 195.0L374.0 200.3L368.1 195.0Z"/>
<path d="M378.5 189.7L384.4 195.0L378.5 200.3L372.6 195.0Z"/>
<path d="M383.0 189.7L388.9 195.0L383.0 200.3L377.1 195.0Z"/>
<path d="M387.5 189.7L393.4 195.0L387.5 200.3L381.6 195.0Z"/>
<path d="M392.0 189.7L397.9 195.0L392.0 200.3L386.1 195.0Z"/>
<path d="M396.5 189.7L402.4 195.0L396.5 200.3L390.6 195.0Z"/>
<path d="M338.0 194.2L343.9 199.5L338.0 204.8L332.1 199.5Z"/>
<path d="M342.5 194.2L348.4 199.5L342.5 204.8L336.6 199.5Z"/>
<path d="M347.0 194.2L352.9 199.5L347.0 204.8L341.1 199.5Z"/>
<path d="M351.5 194.2L357.4 199.5L351.5 204.8L345.6 199.5Z"/>
<path d="M356.0 194.2L361.9 199.5L356.0 204.8L350.1 199.5Z"/>
<path d="M360.5 194.2L366.4 199.5L360.5 204.8L354.6 199.5Z"/>
<path d="M365.0 194.2L370.9 199.5L365.0 204.8L359.1 199.5Z"/>
<path d="M369.5 194.2L375.4 199.5L369.5 204.8L363.6 199.5Z"/>
<path d="M374.0 194.2L379.9 199.5L374.0 204.8L368.1 199.5Z"/>
<path d="M378.5 194.2L384.4 199.5L378.5 204.8L372.6 199.5Z"/>
<path d="M383.0 194.2L388.9 199.5L383.0 204.8L377.1 199.5Z"/>
<path d="M387.5 194.2L393.4 199.5L387.5 204.8L381.6 199.5Z"/>
<path d="M392.0 194.2L397.9 199.5L392.0 204.8L386.1 199.5Z"/>
<path d="M396.5 194.2L402.4 199.5L396.5 204.8L390.6 199.5Z"/>
</g>
<g clip-path="url(#p22)" fill="#ff5f00">
<path d="M337.4 207.4L343.3 212.7L337.4 218.0L331.5 212.7Z"/>
<path d="M374.6 207.4L380.5 212.7L374.6 218.0L368.7 212.7Z"/>
<path d="M388.3 207.4L394.2 212.7L388.3 218.0L382.4 212.7Z"/>
<path d="M402.8 207.4L408.7 212.7L402.8 218.0L396.9 212.7Z"/>
<path d="M373.7 217.4L379.6 222.7L373.7 228.0L367.8 222.7Z"/>
<path d="M384.6 217.4L390.5 222.7L384.6 228.0L378.7 222.7Z"/>
<path d="M406.5 230.2L412.4 235.5L406.5 240.8L400.6 235.5Z"/>
<path d="M343.7 235.6L349.6 240.9L343.7 246.2L337.8 240.9Z"/>
<path d="M363.7 235.6L369.6 240.9L363.7 246.2L357.8 240.9Z"/>
<path d="M373.7 230.2L379.6 235.5L373.7 240.8L367.8 235.5Z"/>
<path d="M379.2 229.2L385.1 234.5L379.2 239.8L373.3 234.5Z"/>
<path d="M384.6 229.2L390.5 234.5L384.6 239.8L378.7 234.5Z"/>
<path d="M390.1 232.0L396.0 237.3L390.1 242.6L384.2 237.3Z"/>
<path d="M395.5 235.6L401.4 240.9L395.5 246.2L389.6 240.9Z"/>
<path d="M401.0 238.3L406.9 243.6L401.0 248.9L395.1 243.6Z"/>
<path d="M375.5 236.5L381.4 241.8L375.5 247.1L369.6 241.8Z"/>
<path d="M382.8 236.5L388.7 241.8L382.8 247.1L376.9 241.8Z"/>
<path d="M390.1 238.3L396.0 243.6L390.1 248.9L384.2 243.6Z"/>
<path d="M375.5 238.3L381.4 243.6L375.5 248.9L369.6 243.6Z"/>
<path d="M382.8 239.2L388.7 244.5L382.8 249.8L376.9 244.5Z"/>
<path d="M397.4 240.2L403.3 245.5L397.4 250.8L391.5 245.5Z"/>
<path d="M330.1 251.1L336.0 256.4L330.1 261.7L324.2 256.4Z"/>
<path d="M352.8 251.1L358.7 256.4L352.8 261.7L346.9 256.4Z"/>
<path d="M336.5 259.2L342.4 264.5L336.5 269.8L330.6 264.5Z"/>
<path d="M341.9 266.5L347.8 271.8L341.9 277.1L336.0 271.8Z"/>
<path d="M366.5 259.2L372.4 264.5L366.5 269.8L360.6 264.5Z"/>
<path d="M373.7 258.3L379.6 263.6L373.7 268.9L367.8 263.6Z"/>
<path d="M379.2 258.3L385.1 263.6L379.2 268.9L373.3 263.6Z"/>
<path d="M391.0 260.2L396.9 265.5L391.0 270.8L385.1 265.5Z"/>
<path d="M355.5 266.5L361.4 271.8L355.5 277.1L349.6 271.8Z"/>
<path d="M362.8 264.7L368.7 270.0L362.8 275.3L356.9 270.0Z"/>
<path d="M370.1 264.7L376.0 270.0L370.1 275.3L364.2 270.0Z"/>
<path d="M377.4 264.7L383.3 270.0L377.4 275.3L371.5 270.0Z"/>
<path d="M384.6 265.6L390.5 270.9L384.6 276.2L378.7 270.9Z"/>
<path d="M391.9 266.5L397.8 271.8L391.9 277.1L386.0 271.8Z"/>
<path d="M346.5 272.9L352.4 278.2L346.5 283.5L340.6 278.2Z"/>
<path d="M353.7 272.9L359.6 278.2L353.7 283.5L347.8 278.2Z"/>
<path d="M361.0 272.0L366.9 277.3L361.0 282.6L355.1 277.3Z"/>
<path d="M368.3 272.0L374.2 277.3L368.3 282.6L362.4 277.3Z"/>
<path d="M375.5 272.9L381.4 278.2L375.5 283.5L369.6 278.2Z"/>
<path d="M382.8 272.9L388.7 278.2L382.8 283.5L376.9 278.2Z"/>
<path d="M390.1 273.8L396.0 279.1L390.1 284.4L384.2 279.1Z"/>
<path d="M398.3 273.8L404.2 279.1L398.3 284.4L392.4 279.1Z"/>
<path d="M341.0 279.2L346.9 284.5L341.0 289.8L335.1 284.5Z"/>
<path d="M348.3 278.3L354.2 283.6L348.3 288.9L342.4 283.6Z"/>
<path d="M355.5 278.3L361.4 283.6L355.5 288.9L349.6 283.6Z"/>
<path d="M362.8 278.3L368.7 283.6L362.8 288.9L356.9 283.6Z"/>
<path d="M370.1 278.3L376.0 283.6L370.1 288.9L364.2 283.6Z"/>
<path d="M377.4 278.3L383.3 283.6L377.4 288.9L371.5 283.6Z"/>
<path d="M384.6 279.2L390.5 284.5L384.6 289.8L378.7 284.5Z"/>
<path d="M391.9 279.2L397.8 284.5L391.9 289.8L386.0 284.5Z"/>
<path d="M399.2 280.2L405.1 285.5L399.2 290.8L393.3 285.5Z"/>
<path d="M326.5 283.8L332.4 289.1L326.5 294.4L320.6 289.1Z"/>
<path d="M339.2 284.7L345.1 290.0L339.2 295.3L333.3 290.0Z"/>
<path d="M348.3 284.7L354.2 290.0L348.3 295.3L342.4 290.0Z"/>
<path d="M357.4 284.7L363.3 290.0L357.4 295.3L351.5 290.0Z"/>
<path d="M366.5 284.7L372.4 290.0L366.5 295.3L360.6 290.0Z"/>
<path d="M375.5 284.7L381.4 290.0L375.5 295.3L369.6 290.0Z"/>
<path d="M384.6 284.7L390.5 290.0L384.6 295.3L378.7 290.0Z"/>
<path d="M393.7 284.7L399.6 290.0L393.7 295.3L387.8 290.0Z"/>
<path d="M401.0 284.7L406.9 290.0L401.0 295.3L395.1 290.0Z"/>
<path d="M358.0 262.2L363.9 267.5L358.0 272.8L352.1 267.5Z"/>
<path d="M362.5 262.2L368.4 267.5L362.5 272.8L356.6 267.5Z"/>
<path d="M367.0 262.2L372.9 267.5L367.0 272.8L361.1 267.5Z"/>
<path d="M371.5 262.2L377.4 267.5L371.5 272.8L365.6 267.5Z"/>
<path d="M376.0 262.2L381.9 267.5L376.0 272.8L370.1 267.5Z"/>
<path d="M380.5 262.2L386.4 267.5L380.5 272.8L374.6 267.5Z"/>
<path d="M385.0 262.2L390.9 267.5L385.0 272.8L379.1 267.5Z"/>
<path d="M389.5 262.2L395.4 267.5L389.5 272.8L383.6 267.5Z"/>
<path d="M352.0 266.7L357.9 272.0L352.0 277.3L346.1 272.0Z"/>
<path d="M356.5 266.7L362.4 272.0L356.5 277.3L350.6 272.0Z"/>
<path d="M361.0 266.7L366.9 272.0L361.0 277.3L355.1 272.0Z"/>
<path d="M365.5 266.7L371.4 272.0L365.5 277.3L359.6 272.0Z"/>
<path d="M370.0 266.7L375.9 272.0L370.0 277.3L364.1 272.0Z"/>
<path d="M374.5 266.7L380.4 272.0L374.5 277.3L368.6 272.0Z"/>
<path d="M379.0 266.7L384.9 272.0L379.0 277.3L373.1 272.0Z"/>
<path d="M383.5 266.7L389.4 272.0L383.5 277.3L377.6 272.0Z"/>
<path d="M388.0 266.7L393.9 272.0L388.0 277.3L382.1 272.0Z"/>
<path d="M392.5 266.7L398.4 272.0L392.5 277.3L386.6 272.0Z"/>
<path d="M346.0 271.2L351.9 276.5L346.0 281.8L340.1 276.5Z"/>
<path d="M350.5 271.2L356.4 276.5L350.5 281.8L344.6 276.5Z"/>
<path d="M355.0 271.2L360.9 276.5L355.0 281.8L349.1 276.5Z"/>
<path d="M359.5 271.2L365.4 276.5L359.5 281.8L353.6 276.5Z"/>
<path d="M364.0 271.2L369.9 276.5L364.0 281.8L358.1 276.5Z"/>
<path d="M368.5 271.2L374.4 276.5L368.5 281.8L362.6 276.5Z"/>
<path d="M373.0 271.2L378.9 276.5L373.0 281.8L367.1 276.5Z"/>
<path d="M377.5 271.2L383.4 276.5L377.5 281.8L371.6 276.5Z"/>
<path d="M382.0 271.2L387.9 276.5L382.0 281.8L376.1 276.5Z"/>
<path d="M386.5 271.2L392.4 276.5L386.5 281.8L380.6 276.5Z"/>
<path d="M391.0 271.2L396.9 276.5L391.0 281.8L385.1 276.5Z"/>
<path d="M395.5 271.2L401.4 276.5L395.5 281.8L389.6 276.5Z"/>
<path d="M341.0 275.7L346.9 281.0L341.0 286.3L335.1 281.0Z"/>
<path d="M345.5 275.7L351.4 281.0L345.5 286.3L339.6 281.0Z"/>
<path d="M350.0 275.7L355.9 281.0L350.0 286.3L344.1 281.0Z"/>
<path d="M354.5 275.7L360.4 281.0L354.5 286.3L348.6 281.0Z"/>
<path d="M359.0 275.7L364.9 281.0L359.0 286.3L353.1 281.0Z"/>
<path d="M363.5 275.7L369.4 281.0L363.5 286.3L357.6 281.0Z"/>
<path d="M368.0 275.7L373.9 281.0L368.0 286.3L362.1 281.0Z"/>
<path d="M372.5 275.7L378.4 281.0L372.5 286.3L366.6 281.0Z"/>
<path d="M377.0 275.7L382.9 281.0L377.0 286.3L371.1 281.0Z"/>
<path d="M381.5 275.7L387.4 281.0L381.5 286.3L375.6 281.0Z"/>
<path d="M386.0 275.7L391.9 281.0L386.0 286.3L380.1 281.0Z"/>
<path d="M390.5 275.7L396.4 281.0L390.5 286.3L384.6 281.0Z"/>
<path d="M395.0 275.7L400.9 281.0L395.0 286.3L389.1 281.0Z"/>
<path d="M399.5 275.7L405.4 281.0L399.5 286.3L393.6 281.0Z"/>
<path d="M337.0 280.2L342.9 285.5L337.0 290.8L331.1 285.5Z"/>
<path d="M341.5 280.2L347.4 285.5L341.5 290.8L335.6 285.5Z"/>
<path d="M346.0 280.2L351.9 285.5L346.0 290.8L340.1 285.5Z"/>
<path d="M350.5 280.2L356.4 285.5L350.5 290.8L344.6 285.5Z"/>
<path d="M355.0 280.2L360.9 285.5L355.0 290.8L349.1 285.5Z"/>
<path d="M359.5 280.2L365.4 285.5L359.5 290.8L353.6 285.5Z"/>
<path d="M364.0 280.2L369.9 285.5L364.0 290.8L358.1 285.5Z"/>
<path d="M368.5 280.2L374.4 285.5L368.5 290.8L362.6 285.5Z"/>
<path d="M373.0 280.2L378.9 285.5L373.0 290.8L367.1 285.5Z"/>
<path d="M377.5 280.2L383.4 285.5L377.5 290.8L371.6 285.5Z"/>
<path d="M382.0 280.2L387.9 285.5L382.0 290.8L376.1 285.5Z"/>
<path d="M386.5 280.2L392.4 285.5L386.5 290.8L380.6 285.5Z"/>
<path d="M391.0 280.2L396.9 285.5L391.0 290.8L385.1 285.5Z"/>
<path d="M395.5 280.2L401.4 285.5L395.5 290.8L389.6 285.5Z"/>
<path d="M400.0 280.2L405.9 285.5L400.0 290.8L394.1 285.5Z"/>
<path d="M333.0 284.2L338.9 289.5L333.0 294.8L327.1 289.5Z"/>
<path d="M337.5 284.2L343.4 289.5L337.5 294.8L331.6 289.5Z"/>
<path d="M342.0 284.2L347.9 289.5L342.0 294.8L336.1 289.5Z"/>
<path d="M346.5 284.2L352.4 289.5L346.5 294.8L340.6 289.5Z"/>
<path d="M351.0 284.2L356.9 289.5L351.0 294.8L345.1 289.5Z"/>
<path d="M355.5 284.2L361.4 289.5L355.5 294.8L349.6 289.5Z"/>
<path d="M360.0 284.2L365.9 289.5L360.0 294.8L354.1 289.5Z"/>
<path d="M364.5 284.2L370.4 289.5L364.5 294.8L358.6 289.5Z"/>
<path d="M369.0 284.2L374.9 289.5L369.0 294.8L363.1 289.5Z"/>
<path d="M373.5 284.2L379.4 289.5L373.5 294.8L367.6 289.5Z"/>
<path d="M378.0 284.2L383.9 289.5L378.0 294.8L372.1 289.5Z"/>
<path d="M382.5 284.2L388.4 289.5L382.5 294.8L376.6 289.5Z"/>
<path d="M387.0 284.2L392.9 289.5L387.0 294.8L381.1 289.5Z"/>
<path d="M391.5 284.2L397.4 289.5L391.5 294.8L385.6 289.5Z"/>
<path d="M396.0 284.2L401.9 289.5L396.0 294.8L390.1 289.5Z"/>
<path d="M400.5 284.2L406.4 289.5L400.5 294.8L394.6 289.5Z"/>
</g>
<g clip-path="url(#p32)" fill="#ff5f00">
<path d="M337.4 312.9L343.3 318.2L337.4 323.5L331.5 318.2Z"/>
<path d="M372.8 302.9L378.7 308.2L372.8 313.5L366.9 308.2Z"/>
<path d="M384.6 302.0L390.5 307.3L384.6 312.6L378.7 307.3Z"/>
<path d="M377.4 307.4L383.3 312.7L377.4 318.0L371.5 312.7Z"/>
<path d="M390.1 305.6L396.0 310.9L390.1 316.2L384.2 310.9Z"/>
<path d="M382.8 309.2L388.7 314.5L382.8 319.8L376.9 314.5Z"/>
<path d="M374.6 312.9L380.5 318.2L374.6 323.5L368.7 318.2Z"/>
<path d="M387.4 312.9L393.3 318.2L387.4 323.5L381.5 318.2Z"/>
<path d="M402.8 312.9L408.7 318.2L402.8 323.5L396.9 318.2Z"/>
<path d="M343.7 328.3L349.6 333.6L343.7 338.9L337.8 333.6Z"/>
<path d="M363.7 328.3L369.6 333.6L363.7 338.9L357.8 333.6Z"/>
<path d="M371.0 328.3L376.9 333.6L371.0 338.9L365.1 333.6Z"/>
<path d="M377.4 327.4L383.3 332.7L377.4 338.0L371.5 332.7Z"/>
<path d="M384.6 327.4L390.5 332.7L384.6 338.0L378.7 332.7Z"/>
<path d="M391.0 328.3L396.9 333.6L391.0 338.9L385.1 333.6Z"/>
<path d="M396.5 329.2L402.4 334.5L396.5 339.8L390.6 334.5Z"/>
<path d="M405.5 332.9L411.4 338.2L405.5 343.5L399.6 338.2Z"/>
<path d="M349.2 337.4L355.1 342.7L349.2 348.0L343.3 342.7Z"/>
<path d="M356.5 339.2L362.4 344.5L356.5 349.8L350.6 344.5Z"/>
<path d="M375.5 335.6L381.4 340.9L375.5 346.2L369.6 340.9Z"/>
<path d="M382.8 335.6L388.7 340.9L382.8 346.2L376.9 340.9Z"/>
<path d="M390.1 336.5L396.0 341.8L390.1 347.1L384.2 341.8Z"/>
<path d="M397.4 336.5L403.3 341.8L397.4 347.1L391.5 341.8Z"/>
<path d="M406.5 336.5L412.4 341.8L406.5 347.1L400.6 341.8Z"/>
<path d="M364.6 342.0L370.5 347.3L364.6 352.6L358.7 347.3Z"/>
<path d="M373.7 342.9L379.6 348.2L373.7 353.5L367.8 348.2Z"/>
<path d="M381.0 342.9L386.9 348.2L381.0 353.5L375.1 348.2Z"/>
<path d="M388.3 341.1L394.2 346.4L388.3 351.7L382.4 346.4Z"/>
<path d="M395.5 341.1L401.4 346.4L395.5 351.7L389.6 346.4Z"/>
<path d="M350.1 344.7L356.0 350.0L350.1 355.3L344.2 350.0Z"/>
<path d="M330.1 345.6L336.0 350.9L330.1 356.2L324.2 350.9Z"/>
<path d="M326.5 355.6L332.4 360.9L326.5 366.2L320.6 360.9Z"/>
<path d="M342.8 353.8L348.7 359.1L342.8 364.4L336.9 359.1Z"/>
<path d="M350.1 353.8L356.0 359.1L350.1 364.4L344.2 359.1Z"/>
<path d="M357.4 352.9L363.3 358.2L357.4 363.5L351.5 358.2Z"/>
<path d="M364.6 352.9L370.5 358.2L364.6 363.5L358.7 358.2Z"/>
<path d="M371.9 353.8L377.8 359.1L371.9 364.4L366.0 359.1Z"/>
<path d="M379.2 353.8L385.1 359.1L379.2 364.4L373.3 359.1Z"/>
<path d="M386.5 353.8L392.4 359.1L386.5 364.4L380.6 359.1Z"/>
<path d="M393.7 354.7L399.6 360.0L393.7 365.3L387.8 360.0Z"/>
<path d="M399.2 357.4L405.1 362.7L399.2 368.0L393.3 362.7Z"/>
<path d="M339.2 361.1L345.1 366.4L339.2 371.7L333.3 366.4Z"/>
<path d="M346.5 360.2L352.4 365.5L346.5 370.8L340.6 365.5Z"/>
<path d="M353.7 361.1L359.6 366.4L353.7 371.7L347.8 366.4Z"/>
<path d="M361.0 360.2L366.9 365.5L361.0 370.8L355.1 365.5Z"/>
<path d="M368.3 360.2L374.2 365.5L368.3 370.8L362.4 365.5Z"/>
<path d="M375.5 360.2L381.4 365.5L375.5 370.8L369.6 365.5Z"/>
<path d="M382.8 360.2L388.7 365.5L382.8 370.8L376.9 365.5Z"/>
<path d="M390.1 361.1L396.0 366.4L390.1 371.7L384.2 366.4Z"/>
<path d="M397.4 360.2L403.3 365.5L397.4 370.8L391.5 365.5Z"/>
<path d="M337.4 368.3L343.3 373.6L337.4 378.9L331.5 373.6Z"/>
<path d="M344.6 367.4L350.5 372.7L344.6 378.0L338.7 372.7Z"/>
<path d="M351.9 367.4L357.8 372.7L351.9 378.0L346.0 372.7Z"/>
<path d="M359.2 368.3L365.1 373.6L359.2 378.9L353.3 373.6Z"/>
<path d="M366.5 367.4L372.4 372.7L366.5 378.0L360.6 372.7Z"/>
<path d="M373.7 367.4L379.6 372.7L373.7 378.0L367.8 372.7Z"/>
<path d="M381.0 368.3L386.9 373.6L381.0 378.9L375.1 373.6Z"/>
<path d="M388.3 367.4L394.2 372.7L388.3 378.0L382.4 372.7Z"/>
<path d="M393.7 366.5L399.6 371.8L393.7 377.1L387.8 371.8Z"/>
<path d="M333.7 373.8L339.6 379.1L333.7 384.4L327.8 379.1Z"/>
<path d="M341.0 373.8L346.9 379.1L341.0 384.4L335.1 379.1Z"/>
<path d="M348.3 373.8L354.2 379.1L348.3 384.4L342.4 379.1Z"/>
<path d="M357.4 373.8L363.3 379.1L357.4 384.4L351.5 379.1Z"/>
<path d="M366.5 373.8L372.4 379.1L366.5 384.4L360.6 379.1Z"/>
<path d="M373.7 373.8L379.6 379.1L373.7 384.4L367.8 379.1Z"/>
<path d="M381.0 373.8L386.9 379.1L381.0 384.4L375.1 379.1Z"/>
<path d="M340.0 350.7L345.9 356.0L340.0 361.3L334.1 356.0Z"/>
<path d="M344.5 350.7L350.4 356.0L344.5 361.3L338.6 356.0Z"/>
<path d="M349.0 350.7L354.9 356.0L349.0 361.3L343.1 356.0Z"/>
<path d="M353.5 350.7L359.4 356.0L353.5 361.3L347.6 356.0Z"/>
<path d="M358.0 350.7L363.9 356.0L358.0 361.3L352.1 356.0Z"/>
<path d="M362.5 350.7L368.4 356.0L362.5 361.3L356.6 356.0Z"/>
<path d="M367.0 350.7L372.9 356.0L367.0 361.3L361.1 356.0Z"/>
<path d="M371.5 350.7L377.4 356.0L371.5 361.3L365.6 356.0Z"/>
<path d="M376.0 350.7L381.9 356.0L376.0 361.3L370.1 356.0Z"/>
<path d="M380.5 350.7L386.4 356.0L380.5 361.3L374.6 356.0Z"/>
<path d="M385.0 350.7L390.9 356.0L385.0 361.3L379.1 356.0Z"/>
<path d="M389.5 350.7L395.4 356.0L389.5 361.3L383.6 356.0Z"/>
<path d="M394.0 350.7L399.9 356.0L394.0 361.3L388.1 356.0Z"/>
<path d="M337.0 355.7L342.9 361.0L337.0 366.3L331.1 361.0Z"/>
<path d="M341.5 355.7L347.4 361.0L341.5 366.3L335.6 361.0Z"/>
<path d="M346.0 355.7L351.9 361.0L346.0 366.3L340.1 361.0Z"/>
<path d="M350.5 355.7L356.4 361.0L350.5 366.3L344.6 361.0Z"/>
<path d="M355.0 355.7L360.9 361.0L355.0 366.3L349.1 361.0Z"/>
<path d="M359.5 355.7L365.4 361.0L359.5 366.3L353.6 361.0Z"/>
<path d="M364.0 355.7L369.9 361.0L364.0 366.3L358.1 361.0Z"/>
<path d="M368.5 355.7L374.4 361.0L368.5 366.3L362.6 361.0Z"/>
<path d="M373.0 355.7L378.9 361.0L373.0 366.3L367.1 361.0Z"/>
<path d="M377.5 355.7L383.4 361.0L377.5 366.3L371.6 361.0Z"/>
<path d="M382.0 355.7L387.9 361.0L382.0 366.3L376.1 361.0Z"/>
<path d="M386.5 355.7L392.4 361.0L386.5 366.3L380.6 361.0Z"/>
<path d="M391.0 355.7L396.9 361.0L391.0 366.3L385.1 361.0Z"/>
<path d="M395.5 355.7L401.4 361.0L395.5 366.3L389.6 361.0Z"/>
<path d="M400.0 355.7L405.9 361.0L400.0 366.3L394.1 361.0Z"/>
<path d="M337.0 360.7L342.9 366.0L337.0 371.3L331.1 366.0Z"/>
<path d="M341.5 360.7L347.4 366.0L341.5 371.3L335.6 366.0Z"/>
<path d="M346.0 360.7L351.9 366.0L346.0 371.3L340.1 366.0Z"/>
<path d="M350.5 360.7L356.4 366.0L350.5 371.3L344.6 366.0Z"/>
<path d="M355.0 360.7L360.9 366.0L355.0 371.3L349.1 366.0Z"/>
<path d="M359.5 360.7L365.4 366.0L359.5 371.3L353.6 366.0Z"/>
<path d="M364.0 360.7L369.9 366.0L364.0 371.3L358.1 366.0Z"/>
<path d="M368.5 360.7L374.4 366.0L368.5 371.3L362.6 366.0Z"/>
<path d="M373.0 360.7L378.9 366.0L373.0 371.3L367.1 366.0Z"/>
<path d="M377.5 360.7L383.4 366.0L377.5 371.3L371.6 366.0Z"/>
<path d="M382.0 360.7L387.9 366.0L382.0 371.3L376.1 366.0Z"/>
<path d="M386.5 360.7L392.4 366.0L386.5 371.3L380.6 366.0Z"/>
<path d="M391.0 360.7L396.9 366.0L391.0 371.3L385.1 366.0Z"/>
<path d="M395.5 360.7L401.4 366.0L395.5 371.3L389.6 366.0Z"/>
<path d="M400.0 360.7L405.9 366.0L400.0 371.3L394.1 366.0Z"/>
<path d="M336.0 365.2L341.9 370.5L336.0 375.8L330.1 370.5Z"/>
<path d="M340.5 365.2L346.4 370.5L340.5 375.8L334.6 370.5Z"/>
<path d="M345.0 365.2L350.9 370.5L345.0 375.8L339.1 370.5Z"/>
<path d="M349.5 365.2L355.4 370.5L349.5 375.8L343.6 370.5Z"/>
<path d="M354.0 365.2L359.9 370.5L354.0 375.8L348.1 370.5Z"/>
<path d="M358.5 365.2L364.4 370.5L358.5 375.8L352.6 370.5Z"/>
<path d="M363.0 365.2L368.9 370.5L363.0 375.8L357.1 370.5Z"/>
<path d="M367.5 365.2L373.4 370.5L367.5 375.8L361.6 370.5Z"/>
<path d="M372.0 365.2L377.9 370.5L372.0 375.8L366.1 370.5Z"/>
<path d="M376.5 365.2L382.4 370.5L376.5 375.8L370.6 370.5Z"/>
<path d="M381.0 365.2L386.9 370.5L381.0 375.8L375.1 370.5Z"/>
<path d="M385.5 365.2L391.4 370.5L385.5 375.8L379.6 370.5Z"/>
<path d="M390.0 365.2L395.9 370.5L390.0 375.8L384.1 370.5Z"/>
<path d="M394.5 365.2L400.4 370.5L394.5 375.8L388.6 370.5Z"/>
<path d="M334.0 369.7L339.9 375.0L334.0 380.3L328.1 375.0Z"/>
<path d="M338.5 369.7L344.4 375.0L338.5 380.3L332.6 375.0Z"/>
<path d="M343.0 369.7L348.9 375.0L343.0 380.3L337.1 375.0Z"/>
<path d="M347.5 369.7L353.4 375.0L347.5 380.3L341.6 375.0Z"/>
<path d="M352.0 369.7L357.9 375.0L352.0 380.3L346.1 375.0Z"/>
<path d="M356.5 369.7L362.4 375.0L356.5 380.3L350.6 375.0Z"/>
<path d="M361.0 369.7L366.9 375.0L361.0 380.3L355.1 375.0Z"/>
<path d="M365.5 369.7L371.4 375.0L365.5 380.3L359.6 375.0Z"/>
<path d="M370.0 369.7L375.9 375.0L370.0 380.3L364.1 375.0Z"/>
<path d="M374.5 369.7L380.4 375.0L374.5 380.3L368.6 375.0Z"/>
<path d="M379.0 369.7L384.9 375.0L379.0 380.3L373.1 375.0Z"/>
<path d="M383.5 369.7L389.4 375.0L383.5 380.3L377.6 375.0Z"/>
<path d="M388.0 369.7L393.9 375.0L388.0 380.3L382.1 375.0Z"/>
<path d="M392.5 369.7L398.4 375.0L392.5 380.3L386.6 375.0Z"/>
<path d="M333.0 374.2L338.9 379.5L333.0 384.8L327.1 379.5Z"/>
<path d="M337.5 374.2L343.4 379.5L337.5 384.8L331.6 379.5Z"/>
<path d="M342.0 374.2L347.9 379.5L342.0 384.8L336.1 379.5Z"/>
<path d="M346.5 374.2L352.4 379.5L346.5 384.8L340.6 379.5Z"/>
<path d="M351.0 374.2L356.9 379.5L351.0 384.8L345.1 379.5Z"/>
<path d="M355.5 374.2L361.4 379.5L355.5 384.8L349.6 379.5Z"/>
<path d="M360.0 374.2L365.9 379.5L360.0 384.8L354.1 379.5Z"/>
<path d="M364.5 374.2L370.4 379.5L364.5 384.8L358.6 379.5Z"/>
<path d="M369.0 374.2L374.9 379.5L369.0 384.8L363.1 379.5Z"/>
<path d="M373.5 374.2L379.4 379.5L373.5 384.8L367.6 379.5Z"/>
<path d="M378.0 374.2L383.9 379.5L378.0 384.8L372.1 379.5Z"/>
<path d="M382.5 374.2L388.4 379.5L382.5 384.8L376.6 379.5Z"/>
</g>
<g clip-path="url(#p03)" stroke="#7a7a7a" stroke-width="1.7" fill="none">
<path d="M437.2 39.0H444.8M441.0 35.6V42.4"/>
<path d="M458.0 36.0H465.6M461.8 32.6V39.4"/>
<path d="M460.0 36.6H467.6M463.8 33.2V40.0"/>
<path d="M474.2 38.2H481.8M478.0 34.8V41.6"/>
<path d="M479.7 35.5H487.3M483.5 32.1V38.9"/>
<path d="M483.3 38.2H490.9M487.1 34.8V41.6"/>
<path d="M451.5 45.8H459.1M455.3 42.4V49.2"/>
<path d="M460.6 45.8H468.2M464.4 42.4V49.2"/>
<path d="M464.2 45.8H471.8M468.0 42.4V49.2"/>
<path d="M472.4 45.5H480.0M476.2 42.1V48.9"/>
<path d="M427.8 62.7H435.4M431.6 59.3V66.1"/>
<path d="M446.9 60.9H454.5M450.7 57.5V64.3"/>
<path d="M454.2 60.9H461.8M458.0 57.5V64.3"/>
<path d="M459.7 60.9H467.3M463.5 57.5V64.3"/>
<path d="M465.1 60.9H472.7M468.9 57.5V64.3"/>
<path d="M469.7 60.9H477.3M473.5 57.5V64.3"/>
<path d="M472.4 62.7H480.0M476.2 59.3V66.1"/>
<path d="M453.3 64.5H460.9M457.1 61.1V67.9"/>
<path d="M457.8 64.5H465.4M461.6 61.1V67.9"/>
<path d="M463.3 64.5H470.9M467.1 61.1V67.9"/>
<path d="M468.7 64.5H476.3M472.5 61.1V67.9"/>
<path d="M485.1 64.5H492.7M488.9 61.1V67.9"/>
<path d="M487.8 64.5H495.4M491.6 61.1V67.9"/>
<path d="M455.1 70.9H462.7M458.9 67.5V74.3"/>
<path d="M459.7 71.8H467.3M463.5 68.4V75.2"/>
<path d="M454.2 75.5H461.8M458.0 72.1V78.9"/>
<path d="M437.8 78.2H445.4M441.6 74.8V81.6"/>
<path d="M453.3 78.2H460.9M457.1 74.8V81.6"/>
<path d="M467.8 74.5H475.4M471.6 71.1V77.9"/>
<path d="M474.2 74.5H481.8M478.0 71.1V77.9"/>
<path d="M480.6 78.2H488.2M484.4 74.8V81.6"/>
<path d="M472.4 80.9H480.0M476.2 77.5V84.3"/>
<path d="M460.6 81.8H468.2M464.4 78.4V85.2"/>
<path d="M444.2 88.2H451.8M448.0 84.8V91.6"/>
<path d="M449.7 87.3H457.3M453.5 83.9V90.7"/>
<path d="M456.9 87.3H464.5M460.7 83.9V90.7"/>
<path d="M462.4 86.4H470.0M466.2 83.0V89.8"/>
<path d="M467.8 87.3H475.4M471.6 83.9V90.7"/>
<path d="M474.2 87.3H481.8M478.0 83.9V90.7"/>
<path d="M479.7 87.3H487.3M483.5 83.9V90.7"/>
<path d="M485.1 85.5H492.7M488.9 82.1V88.9"/>
<path d="M490.6 89.1H498.2M494.4 85.7V92.5"/>
<path d="M446.9 92.7H454.5M450.7 89.3V96.1"/>
<path d="M453.3 91.8H460.9M457.1 88.4V95.2"/>
<path d="M458.7 91.8H466.3M462.5 88.4V95.2"/>
<path d="M464.2 91.8H471.8M468.0 88.4V95.2"/>
<path d="M469.7 92.7H477.3M473.5 89.3V96.1"/>
<path d="M476.0 91.8H483.6M479.8 88.4V95.2"/>
<path d="M481.5 91.8H489.1M485.3 88.4V95.2"/>
<path d="M450.6 96.4H458.2M454.4 93.0V99.8"/>
<path d="M457.8 95.5H465.4M461.6 92.1V98.9"/>
<path d="M463.3 96.4H470.9M467.1 93.0V99.8"/>
<path d="M472.4 95.5H480.0M476.2 92.1V98.9"/>
<path d="M443.3 100.0H450.9M447.1 96.6V103.4"/>
<path d="M463.3 102.7H470.9M467.1 99.3V106.1"/>
<path d="M472.4 101.8H480.0M476.2 98.4V105.2"/>
<path d="M478.7 95.5H486.3M482.5 92.1V98.9"/>
<path d="M454.2 86.0H461.8M458.0 82.6V89.4"/>
<path d="M459.2 88.0H466.8M463.0 84.6V91.4"/>
<path d="M464.2 86.0H471.8M468.0 82.6V89.4"/>
<path d="M456.2 91.0H463.8M460.0 87.6V94.4"/>
<path d="M461.2 93.0H468.8M465.0 89.6V96.4"/>
<path d="M466.2 91.0H473.8M470.0 87.6V94.4"/>
<path d="M458.2 96.0H465.8M462.0 92.6V99.4"/>
<path d="M464.2 97.0H471.8M468.0 93.6V100.4"/>
<path d="M452.2 66.0H459.8M456.0 62.6V69.4"/>
<path d="M456.2 69.0H463.8M460.0 65.6V72.4"/>
<path d="M462.2 67.0H469.8M466.0 63.6V70.4"/>
<path d="M457.2 74.0H464.8M461.0 70.6V77.4"/>
</g>
<g clip-path="url(#p13)" stroke="#7a7a7a" stroke-width="1.7" fill="none">
<path d="M436.9 133.6H444.5M440.7 130.2V137.0"/>
<path d="M458.8 129.0H466.4M462.6 125.6V132.4"/>
<path d="M459.3 131.0H466.9M463.1 127.6V134.4"/>
<path d="M474.2 133.6H481.8M478.0 130.2V137.0"/>
<path d="M479.7 130.0H487.3M483.5 126.6V133.4"/>
<path d="M483.3 133.6H490.9M487.1 130.2V137.0"/>
<path d="M426.9 158.2H434.5M430.7 154.8V161.6"/>
<path d="M446.9 152.0H454.5M450.7 148.6V155.4"/>
<path d="M453.3 152.7H460.9M457.1 149.3V156.1"/>
<path d="M458.7 152.0H466.3M462.5 148.6V155.4"/>
<path d="M464.2 152.7H471.8M468.0 149.3V156.1"/>
<path d="M468.7 152.7H476.3M472.5 149.3V156.1"/>
<path d="M472.4 154.5H480.0M476.2 151.1V157.9"/>
<path d="M452.4 157.3H460.0M456.2 153.9V160.7"/>
<path d="M457.8 157.3H465.4M461.6 153.9V160.7"/>
<path d="M463.3 158.2H470.9M467.1 154.8V161.6"/>
<path d="M468.7 157.3H476.3M472.5 153.9V160.7"/>
<path d="M472.4 158.2H480.0M476.2 154.8V161.6"/>
<path d="M453.3 160.9H460.9M457.1 157.5V164.3"/>
<path d="M456.9 168.2H464.5M460.7 164.8V171.6"/>
<path d="M463.3 168.2H470.9M467.1 164.8V171.6"/>
<path d="M469.7 167.3H477.3M473.5 163.9V170.7"/>
<path d="M474.2 168.2H481.8M478.0 164.8V171.6"/>
<path d="M485.1 168.2H492.7M488.9 164.8V171.6"/>
<path d="M487.8 169.1H495.4M491.6 165.7V172.5"/>
<path d="M445.1 178.2H452.7M448.9 174.8V181.6"/>
<path d="M452.4 175.5H460.0M456.2 172.1V178.9"/>
<path d="M459.7 175.5H467.3M463.5 172.1V178.9"/>
<path d="M465.1 177.3H472.7M468.9 173.9V180.7"/>
<path d="M470.6 176.4H478.2M474.4 173.0V179.8"/>
<path d="M476.0 176.4H483.6M479.8 173.0V179.8"/>
<path d="M479.7 177.3H487.3M483.5 173.9V180.7"/>
<path d="M486.0 175.5H493.6M489.8 172.1V178.9"/>
<path d="M456.0 180.9H463.6M459.8 177.5V184.3"/>
<path d="M461.5 181.8H469.1M465.3 178.4V185.2"/>
<path d="M466.9 181.8H474.5M470.7 178.4V185.2"/>
<path d="M472.4 181.8H480.0M476.2 178.4V185.2"/>
<path d="M477.8 181.8H485.4M481.6 178.4V185.2"/>
<path d="M483.3 182.7H490.9M487.1 179.3V186.1"/>
<path d="M437.8 187.3H445.4M441.6 183.9V190.7"/>
<path d="M450.6 186.4H458.2M454.4 183.0V189.8"/>
<path d="M457.8 186.4H465.4M461.6 183.0V189.8"/>
<path d="M463.3 187.3H470.9M467.1 183.9V190.7"/>
<path d="M468.7 186.4H476.3M472.5 183.0V189.8"/>
<path d="M474.2 186.4H481.8M478.0 183.0V189.8"/>
<path d="M479.7 185.5H487.3M483.5 182.1V188.9"/>
<path d="M490.6 186.4H498.2M494.4 183.0V189.8"/>
<path d="M443.3 195.5H450.9M447.1 192.1V198.9"/>
<path d="M457.8 193.6H465.4M461.6 190.2V197.0"/>
<path d="M465.1 194.5H472.7M468.9 191.1V197.9"/>
<path d="M472.4 194.5H480.0M476.2 191.1V197.9"/>
<path d="M450.6 198.2H458.2M454.4 194.8V201.6"/>
<path d="M459.7 198.2H467.3M463.5 194.8V201.6"/>
<path d="M466.9 198.2H474.5M470.7 194.8V201.6"/>
<path d="M476.0 198.2H483.6M479.8 194.8V201.6"/>
<path d="M456.2 172.0H463.8M460.0 168.6V175.4"/>
<path d="M461.2 175.0H468.8M465.0 171.6V178.4"/>
<path d="M466.2 172.0H473.8M470.0 168.6V175.4"/>
<path d="M458.2 180.0H465.8M462.0 176.6V183.4"/>
<path d="M463.2 183.0H470.8M467.0 179.6V186.4"/>
<path d="M468.2 180.0H475.8M472.0 176.6V183.4"/>
<path d="M460.2 188.0H467.8M464.0 184.6V191.4"/>
<path d="M465.2 190.0H472.8M469.0 186.6V193.4"/>
<path d="M455.2 185.0H462.8M459.0 181.6V188.4"/>
<path d="M470.2 189.0H477.8M474.0 185.6V192.4"/>
</g>
<g clip-path="url(#p23)" stroke="#7a7a7a" stroke-width="1.7" fill="none">
<path d="M451.5 212.4H459.1M455.3 209.0V215.8"/>
<path d="M460.6 212.4H468.2M464.4 209.0V215.8"/>
<path d="M463.3 212.4H470.9M467.1 209.0V215.8"/>
<path d="M472.4 212.4H480.0M476.2 209.0V215.8"/>
<path d="M457.8 221.5H465.4M461.6 218.1V224.9"/>
<path d="M459.7 222.7H467.3M463.5 219.3V226.1"/>
<path d="M479.7 221.8H487.3M483.5 218.4V225.2"/>
<path d="M465.1 234.5H472.7M468.9 231.1V237.9"/>
<path d="M470.6 234.5H478.2M474.4 231.1V237.9"/>
<path d="M485.1 234.5H492.7M488.9 231.1V237.9"/>
<path d="M487.8 235.5H495.4M491.6 232.1V238.9"/>
<path d="M436.9 242.7H444.5M440.7 239.3V246.1"/>
<path d="M446.9 244.5H454.5M450.7 241.1V247.9"/>
<path d="M453.3 239.1H460.9M457.1 235.7V242.5"/>
<path d="M456.0 240.9H463.6M459.8 237.5V244.3"/>
<path d="M458.7 239.1H466.3M462.5 235.7V242.5"/>
<path d="M461.5 241.8H469.1M465.3 238.4V245.2"/>
<path d="M466.9 240.0H474.5M470.7 236.6V243.4"/>
<path d="M454.2 243.6H461.8M458.0 240.2V247.0"/>
<path d="M458.7 243.6H466.3M462.5 240.2V247.0"/>
<path d="M460.6 244.5H468.2M464.4 241.1V247.9"/>
<path d="M468.7 243.6H476.3M472.5 240.2V247.0"/>
<path d="M474.2 242.7H481.8M478.0 239.3V246.1"/>
<path d="M483.3 242.7H490.9M487.1 239.3V246.1"/>
<path d="M437.8 254.5H445.4M441.6 251.1V257.9"/>
<path d="M453.3 254.5H460.9M457.1 251.1V257.9"/>
<path d="M480.6 254.5H488.2M484.4 251.1V257.9"/>
<path d="M426.9 264.5H434.5M430.7 261.1V267.9"/>
<path d="M452.4 263.6H460.0M456.2 260.2V267.0"/>
<path d="M460.6 263.6H468.2M464.4 260.2V267.0"/>
<path d="M471.5 262.7H479.1M475.3 259.3V266.1"/>
<path d="M474.2 263.6H481.8M478.0 260.2V267.0"/>
<path d="M456.0 270.9H463.6M459.8 267.5V274.3"/>
<path d="M461.5 270.0H469.1M465.3 266.6V273.4"/>
<path d="M466.9 270.9H474.5M470.7 267.5V274.3"/>
<path d="M472.4 270.9H480.0M476.2 267.5V274.3"/>
<path d="M477.8 271.8H485.4M481.6 268.4V275.2"/>
<path d="M486.9 272.7H494.5M490.7 269.3V276.1"/>
<path d="M445.1 277.3H452.7M448.9 273.9V280.7"/>
<path d="M450.6 274.5H458.2M454.4 271.1V277.9"/>
<path d="M457.8 275.5H465.4M461.6 272.1V278.9"/>
<path d="M463.3 275.5H470.9M467.1 272.1V278.9"/>
<path d="M468.7 276.4H476.3M472.5 273.0V279.8"/>
<path d="M474.2 276.4H481.8M478.0 273.0V279.8"/>
<path d="M478.7 277.3H486.3M482.5 273.9V280.7"/>
<path d="M456.0 281.8H463.6M459.8 278.4V285.2"/>
<path d="M463.3 280.9H470.9M467.1 277.5V284.3"/>
<path d="M472.4 282.7H480.0M476.2 279.3V286.1"/>
<path d="M444.2 288.3H451.8M448.0 284.9V291.7"/>
<path d="M450.2 288.3H457.8M454.0 284.9V291.7"/>
<path d="M456.2 288.3H463.8M460.0 284.9V291.7"/>
<path d="M462.2 288.3H469.8M466.0 284.9V291.7"/>
<path d="M468.2 288.3H475.8M472.0 284.9V291.7"/>
<path d="M474.2 288.3H481.8M478.0 284.9V291.7"/>
<path d="M480.2 288.3H487.8M484.0 284.9V291.7"/>
<path d="M490.2 288.3H497.8M494.0 284.9V291.7"/>
<path d="M456.2 268.0H463.8M460.0 264.6V271.4"/>
<path d="M462.2 268.0H469.8M466.0 264.6V271.4"/>
<path d="M468.2 268.0H475.8M472.0 264.6V271.4"/>
<path d="M458.2 273.0H465.8M462.0 269.6V276.4"/>
<path d="M464.2 273.0H471.8M468.0 269.6V276.4"/>
<path d="M470.2 273.0H477.8M474.0 269.6V276.4"/>
<path d="M454.2 278.0H461.8M458.0 274.6V281.4"/>
<path d="M460.2 278.0H467.8M464.0 274.6V281.4"/>
<path d="M466.2 278.0H473.8M470.0 274.6V281.4"/>
<path d="M472.2 278.0H479.8M476.0 274.6V281.4"/>
<path d="M458.2 283.0H465.8M462.0 279.6V286.4"/>
<path d="M464.2 283.0H471.8M468.0 279.6V286.4"/>
<path d="M470.2 283.0H477.8M474.0 279.6V286.4"/>
<path d="M462.2 287.0H469.8M466.0 283.6V290.4"/>
<path d="M468.2 287.0H475.8M472.0 283.6V290.4"/>
</g>
<g clip-path="url(#p33)" stroke="#7a7a7a" stroke-width="1.7" fill="none">
<path d="M436.9 310.9H444.5M440.7 307.5V314.3"/>
<path d="M458.7 307.3H466.3M462.5 303.9V310.7"/>
<path d="M460.6 308.2H468.2M464.4 304.8V311.6"/>
<path d="M474.2 310.9H481.8M478.0 307.5V314.3"/>
<path d="M479.7 307.3H487.3M483.5 303.9V310.7"/>
<path d="M483.3 310.9H490.9M487.1 307.5V314.3"/>
<path d="M451.5 317.6H459.1M455.3 314.2V321.0"/>
<path d="M460.6 317.6H468.2M464.4 314.2V321.0"/>
<path d="M463.3 317.6H470.9M467.1 314.2V321.0"/>
<path d="M472.4 317.6H480.0M476.2 314.2V321.0"/>
<path d="M426.9 333.6H434.5M430.7 330.2V337.0"/>
<path d="M446.9 333.6H454.5M450.7 330.2V337.0"/>
<path d="M453.3 333.6H460.9M457.1 330.2V337.0"/>
<path d="M456.9 333.6H464.5M460.7 330.2V337.0"/>
<path d="M460.6 333.6H468.2M464.4 330.2V337.0"/>
<path d="M467.8 333.6H475.4M471.6 330.2V337.0"/>
<path d="M472.4 333.6H480.0M476.2 330.2V337.0"/>
<path d="M454.2 342.7H461.8M458.0 339.3V346.1"/>
<path d="M464.2 341.8H471.8M468.0 338.4V345.2"/>
<path d="M468.7 340.9H476.3M472.5 337.5V344.3"/>
<path d="M470.6 343.6H478.2M474.4 340.2V347.0"/>
<path d="M485.1 340.9H492.7M488.9 337.5V344.3"/>
<path d="M487.8 340.9H495.4M491.6 337.5V344.3"/>
<path d="M437.8 349.1H445.4M441.6 345.7V352.5"/>
<path d="M453.3 348.2H460.9M457.1 344.8V351.6"/>
<path d="M457.8 347.3H465.4M461.6 343.9V350.7"/>
<path d="M456.0 350.0H463.6M459.8 346.6V353.4"/>
<path d="M467.8 347.3H475.4M471.6 343.9V350.7"/>
<path d="M474.2 347.3H481.8M478.0 343.9V350.7"/>
<path d="M480.6 350.0H488.2M484.4 346.6V353.4"/>
<path d="M446.0 361.8H453.6M449.8 358.4V365.2"/>
<path d="M452.4 359.1H460.0M456.2 355.7V362.5"/>
<path d="M457.8 360.0H465.4M461.6 356.6V363.4"/>
<path d="M464.2 359.1H471.8M468.0 355.7V362.5"/>
<path d="M468.7 359.1H476.3M472.5 355.7V362.5"/>
<path d="M473.3 359.1H480.9M477.1 355.7V362.5"/>
<path d="M478.7 360.0H486.3M482.5 356.6V363.4"/>
<path d="M484.2 360.0H491.8M488.0 356.6V363.4"/>
<path d="M490.6 360.9H498.2M494.4 357.5V364.3"/>
<path d="M443.3 368.2H450.9M447.1 364.8V371.6"/>
<path d="M448.7 367.3H456.3M452.5 363.9V370.7"/>
<path d="M454.2 365.5H461.8M458.0 362.1V368.9"/>
<path d="M459.7 364.5H467.3M463.5 361.1V367.9"/>
<path d="M465.1 364.5H472.7M468.9 361.1V367.9"/>
<path d="M470.6 365.5H478.2M474.4 362.1V368.9"/>
<path d="M476.0 366.4H483.6M479.8 363.0V369.8"/>
<path d="M443.3 371.8H450.9M447.1 368.4V375.2"/>
<path d="M456.0 370.9H463.6M459.8 367.5V374.3"/>
<path d="M462.4 370.0H470.0M466.2 366.6V373.4"/>
<path d="M468.7 369.1H476.3M472.5 365.7V372.5"/>
<path d="M474.2 369.1H481.8M478.0 365.7V372.5"/>
<path d="M461.5 374.5H469.1M465.3 371.1V377.9"/>
<path d="M472.4 373.6H480.0M476.2 370.2V377.0"/>
<path d="M462.4 379.1H470.0M466.2 375.7V382.5"/>
<path d="M472.4 379.1H480.0M476.2 375.7V382.5"/>
<path d="M456.2 358.0H463.8M460.0 354.6V361.4"/>
<path d="M462.2 358.0H469.8M466.0 354.6V361.4"/>
<path d="M468.2 358.0H475.8M472.0 354.6V361.4"/>
<path d="M474.2 358.0H481.8M478.0 354.6V361.4"/>
<path d="M458.2 363.0H465.8M462.0 359.6V366.4"/>
<path d="M464.2 363.0H471.8M468.0 359.6V366.4"/>
<path d="M470.2 363.0H477.8M474.0 359.6V366.4"/>
<path d="M454.2 368.0H461.8M458.0 364.6V371.4"/>
<path d="M460.2 368.0H467.8M464.0 364.6V371.4"/>
<path d="M466.2 368.0H473.8M470.0 364.6V371.4"/>
<path d="M472.2 368.0H479.8M476.0 364.6V371.4"/>
<path d="M462.2 373.0H469.8M466.0 369.6V376.4"/>
<path d="M468.2 373.0H475.8M472.0 369.6V376.4"/>
</g>
<rect x="515" y="16.2" width="1.6" height="3.2" fill="#7fd0f0"/>
<rect x="157.7" y="20.400000000000002" width="4.6" height="4.4" fill="#fff" stroke="#555" stroke-width="0.9"/>
<rect x="223.6" y="20.400000000000002" width="4.6" height="4.4" fill="#fff" stroke="#555" stroke-width="0.9"/>
<rect x="223.6" y="211.8" width="4.6" height="4.4" fill="#fff" stroke="#555" stroke-width="0.9"/>
<text transform="translate(41.5,272) rotate(-90)" font-size="23.3" textLength="158.5" lengthAdjust="spacingAndGlyphs" style="font-family:'Liberation Serif',serif;fill:#151515;stroke:#151515;stroke-width:0.3px">VOCAL QUALITY</text>
<text transform="translate(112.6,57) rotate(-90)" font-size="23" textLength="25" lengthAdjust="spacingAndGlyphs" style="font-family:'Liberation Serif',serif;fill:#151515;stroke:#151515;stroke-width:0.3px">OS</text>
<text transform="translate(108.9,184.8) rotate(-90)" font-size="23" textLength="91" lengthAdjust="spacingAndGlyphs" style="font-family:'Liberation Serif',serif;fill:#151515;stroke:#151515;stroke-width:0.3px">Roughness</text>
<text transform="translate(115.8,311.7) rotate(-90)" font-size="23" textLength="96" lengthAdjust="spacingAndGlyphs" style="font-family:'Liberation Serif',serif;fill:#151515;stroke:#151515;stroke-width:0.3px">Breathiness</text>
<text transform="translate(111,398) rotate(-90)" font-size="23" textLength="49.5" lengthAdjust="spacingAndGlyphs" style="font-family:'Liberation Serif',serif;fill:#151515;stroke:#151515;stroke-width:0.3px">Strain</text>
<text x="143.5" y="409" font-size="20" textLength="87" lengthAdjust="spacingAndGlyphs" style="font-family:'Liberation Serif',serif;fill:#151515;stroke:#151515;stroke-width:0.3px">VOT (ms)</text>
<text x="243" y="409" font-size="20" style="font-family:'Liberation Serif',serif;fill:#151515;stroke:#151515;stroke-width:0.3px" textLength="66" lengthAdjust="spacingAndGlyphs"><tspan font-style="italic">f</tspan>o (Hz)</text>
<text x="324.5" y="409" font-size="20" textLength="78" lengthAdjust="spacingAndGlyphs" style="font-family:'Liberation Serif',serif;fill:#151515;stroke:#151515;stroke-width:0.3px">SPL (dB)</text>
<text x="418.5" y="409" font-size="20" style="font-family:'Liberation Serif',serif;fill:#151515;stroke:#151515;stroke-width:0.3px" textLength="92" lengthAdjust="spacingAndGlyphs">CV_<tspan font-style="italic">f</tspan>o (%)</text>
<text x="131.5" y="468.3" font-size="19.5" textLength="244" lengthAdjust="spacingAndGlyphs" style="font-family:'Liberation Serif',serif;fill:#151515;stroke:#151515;stroke-width:0.3px">DEPENDENT VARIABLES</text>
</svg></body></html>
